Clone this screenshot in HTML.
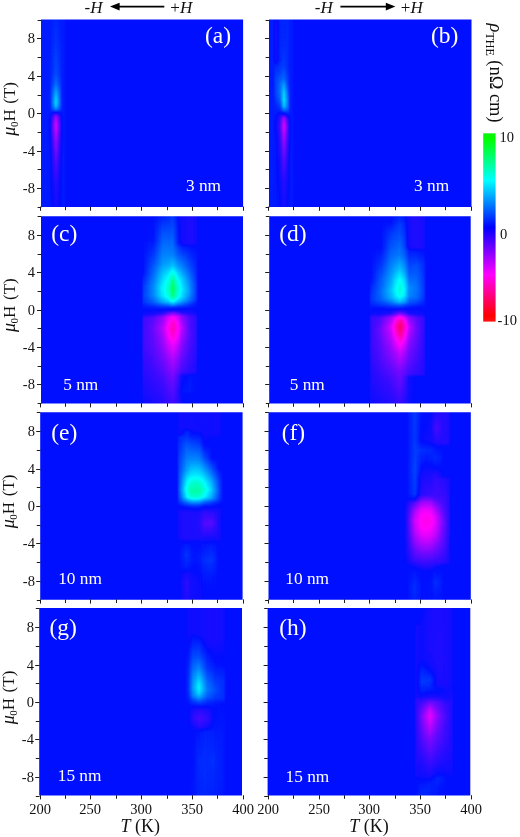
<!DOCTYPE html>
<html><head><meta charset="utf-8"><title>THE maps</title>
<style>
html,body{margin:0;padding:0;background:#fff;}
svg{display:block;}
text{font-family:"Liberation Serif",serif;}
.tk{font-size:14.5px;fill:#111;}
.al{font-size:17px;fill:#111;}
.cl{font-size:18.4px;fill:#111;}
.pl{font-size:23.5px;fill:#fff;}
.nm{font-size:17.3px;fill:#fff;}
.ax line{stroke:#1c1c1c;stroke-width:1;}
.xl{font-size:18px;fill:#111;}
</style></head><body>
<svg width="520" height="837" viewBox="0 0 520 837">
<defs>
<linearGradient id="hg" x1="0" y1="0" x2="1" y2="0"><stop offset="0" stop-color="#fff" stop-opacity="0"/><stop offset="1" stop-color="#fff" stop-opacity="1"/></linearGradient>
<mask id="hm" maskContentUnits="objectBoundingBox"><rect x="0" y="0" width="1" height="1" fill="url(#hg)"/></mask>
<filter id="cm" filterUnits="userSpaceOnUse" x="0" y="0" width="520" height="837" color-interpolation-filters="sRGB">
<feGaussianBlur stdDeviation="0.7"/>
<feComponentTransfer>
<feFuncR type="table" tableValues="1 1 0 0 0"/>
<feFuncG type="table" tableValues="0 0 0.055 1 1"/>
<feFuncB type="table" tableValues="0 1 1 1 0"/>
</feComponentTransfer>
</filter>
<clipPath id="c1"><rect x="41.0" y="19.4" width="202.1" height="187.5"/></clipPath>
<linearGradient id="g2" gradientUnits="userSpaceOnUse" x1="0" y1="19.4" x2="0" y2="206.9"><stop offset="0.0000" stop-color="rgb(131,131,131)"/><stop offset="0.1365" stop-color="rgb(131,131,131)"/><stop offset="0.2859" stop-color="rgb(132,132,132)"/><stop offset="0.3445" stop-color="rgb(132,132,132)"/><stop offset="0.3872" stop-color="rgb(133,133,133)"/><stop offset="0.4192" stop-color="rgb(133,133,133)"/><stop offset="0.4405" stop-color="rgb(133,133,133)"/><stop offset="0.4619" stop-color="rgb(133,133,133)"/><stop offset="0.4805" stop-color="rgb(132,132,132)"/><stop offset="0.4939" stop-color="rgb(131,131,131)"/><stop offset="0.5019" stop-color="rgb(130,130,130)"/><stop offset="0.5205" stop-color="rgb(129,129,129)"/><stop offset="0.5525" stop-color="rgb(128,128,128)"/><stop offset="0.5792" stop-color="rgb(128,128,128)"/><stop offset="0.6432" stop-color="rgb(129,129,129)"/><stop offset="0.7499" stop-color="rgb(130,130,130)"/><stop offset="0.8725" stop-color="rgb(130,130,130)"/><stop offset="1.0000" stop-color="rgb(130,130,130)"/></linearGradient>
<linearGradient id="g3" gradientUnits="userSpaceOnUse" x1="0" y1="19.4" x2="0" y2="206.9"><stop offset="0.0000" stop-color="rgb(132,132,132)"/><stop offset="0.1365" stop-color="rgb(134,134,134)"/><stop offset="0.2859" stop-color="rgb(136,136,136)"/><stop offset="0.3445" stop-color="rgb(140,140,140)"/><stop offset="0.3872" stop-color="rgb(146,146,146)"/><stop offset="0.4192" stop-color="rgb(149,149,149)"/><stop offset="0.4405" stop-color="rgb(151,151,151)"/><stop offset="0.4619" stop-color="rgb(148,148,148)"/><stop offset="0.4805" stop-color="rgb(141,141,141)"/><stop offset="0.4939" stop-color="rgb(132,132,132)"/><stop offset="0.5019" stop-color="rgb(126,126,126)"/><stop offset="0.5205" stop-color="rgb(116,116,116)"/><stop offset="0.5525" stop-color="rgb(111,111,111)"/><stop offset="0.5792" stop-color="rgb(110,110,110)"/><stop offset="0.6432" stop-color="rgb(116,116,116)"/><stop offset="0.7499" stop-color="rgb(122,122,122)"/><stop offset="0.8725" stop-color="rgb(126,126,126)"/><stop offset="1.0000" stop-color="rgb(128,128,128)"/></linearGradient>
<linearGradient id="g4" gradientUnits="userSpaceOnUse" x1="0" y1="19.4" x2="0" y2="206.9"><stop offset="0.0000" stop-color="rgb(134,134,134)"/><stop offset="0.1365" stop-color="rgb(138,138,138)"/><stop offset="0.2859" stop-color="rgb(144,144,144)"/><stop offset="0.3445" stop-color="rgb(153,153,153)"/><stop offset="0.3872" stop-color="rgb(168,168,168)"/><stop offset="0.4192" stop-color="rgb(178,178,178)"/><stop offset="0.4405" stop-color="rgb(182,182,182)"/><stop offset="0.4619" stop-color="rgb(176,176,176)"/><stop offset="0.4805" stop-color="rgb(156,156,156)"/><stop offset="0.4939" stop-color="rgb(131,131,131)"/><stop offset="0.5019" stop-color="rgb(117,117,117)"/><stop offset="0.5205" stop-color="rgb(89,89,89)"/><stop offset="0.5525" stop-color="rgb(76,76,76)"/><stop offset="0.5792" stop-color="rgb(75,75,75)"/><stop offset="0.6432" stop-color="rgb(89,89,89)"/><stop offset="0.7499" stop-color="rgb(106,106,106)"/><stop offset="0.8725" stop-color="rgb(117,117,117)"/><stop offset="1.0000" stop-color="rgb(122,122,122)"/></linearGradient>
<linearGradient id="g5" gradientUnits="userSpaceOnUse" x1="0" y1="19.4" x2="0" y2="206.9"><stop offset="0.0000" stop-color="rgb(132,132,132)"/><stop offset="0.1365" stop-color="rgb(134,134,134)"/><stop offset="0.2859" stop-color="rgb(136,136,136)"/><stop offset="0.3445" stop-color="rgb(140,140,140)"/><stop offset="0.3872" stop-color="rgb(146,146,146)"/><stop offset="0.4192" stop-color="rgb(149,149,149)"/><stop offset="0.4405" stop-color="rgb(151,151,151)"/><stop offset="0.4619" stop-color="rgb(148,148,148)"/><stop offset="0.4805" stop-color="rgb(141,141,141)"/><stop offset="0.4939" stop-color="rgb(132,132,132)"/><stop offset="0.5019" stop-color="rgb(126,126,126)"/><stop offset="0.5205" stop-color="rgb(116,116,116)"/><stop offset="0.5525" stop-color="rgb(111,111,111)"/><stop offset="0.5792" stop-color="rgb(110,110,110)"/><stop offset="0.6432" stop-color="rgb(116,116,116)"/><stop offset="0.7499" stop-color="rgb(122,122,122)"/><stop offset="0.8725" stop-color="rgb(126,126,126)"/><stop offset="1.0000" stop-color="rgb(128,128,128)"/></linearGradient>
<linearGradient id="g6" gradientUnits="userSpaceOnUse" x1="0" y1="19.4" x2="0" y2="206.9"><stop offset="0.0000" stop-color="rgb(131,131,131)"/><stop offset="0.1365" stop-color="rgb(131,131,131)"/><stop offset="0.2859" stop-color="rgb(132,132,132)"/><stop offset="0.3445" stop-color="rgb(132,132,132)"/><stop offset="0.3872" stop-color="rgb(133,133,133)"/><stop offset="0.4192" stop-color="rgb(133,133,133)"/><stop offset="0.4405" stop-color="rgb(133,133,133)"/><stop offset="0.4619" stop-color="rgb(133,133,133)"/><stop offset="0.4805" stop-color="rgb(132,132,132)"/><stop offset="0.4939" stop-color="rgb(131,131,131)"/><stop offset="0.5019" stop-color="rgb(130,130,130)"/><stop offset="0.5205" stop-color="rgb(129,129,129)"/><stop offset="0.5525" stop-color="rgb(128,128,128)"/><stop offset="0.5792" stop-color="rgb(128,128,128)"/><stop offset="0.6432" stop-color="rgb(129,129,129)"/><stop offset="0.7499" stop-color="rgb(130,130,130)"/><stop offset="0.8725" stop-color="rgb(130,130,130)"/><stop offset="1.0000" stop-color="rgb(130,130,130)"/></linearGradient>
<clipPath id="c7"><rect x="269.0" y="19.4" width="202.5" height="187.5"/></clipPath>
<linearGradient id="g8" gradientUnits="userSpaceOnUse" x1="0" y1="19.4" x2="0" y2="206.9"><stop offset="0.0000" stop-color="rgb(125,125,125)"/><stop offset="0.0299" stop-color="rgb(121,121,121)"/><stop offset="0.2165" stop-color="rgb(122,122,122)"/><stop offset="0.2485" stop-color="rgb(134,134,134)"/><stop offset="0.3232" stop-color="rgb(142,142,142)"/><stop offset="0.4032" stop-color="rgb(142,142,142)"/><stop offset="0.4565" stop-color="rgb(134,134,134)"/><stop offset="0.4939" stop-color="rgb(131,131,131)"/><stop offset="0.5152" stop-color="rgb(129,129,129)"/><stop offset="0.5632" stop-color="rgb(126,126,126)"/><stop offset="0.6432" stop-color="rgb(129,129,129)"/><stop offset="1.0000" stop-color="rgb(130,130,130)"/></linearGradient>
<linearGradient id="g9" gradientUnits="userSpaceOnUse" x1="0" y1="19.4" x2="0" y2="206.9"><stop offset="0.0000" stop-color="rgb(133,133,133)"/><stop offset="0.2165" stop-color="rgb(134,134,134)"/><stop offset="0.2912" stop-color="rgb(142,142,142)"/><stop offset="0.3445" stop-color="rgb(152,152,152)"/><stop offset="0.3872" stop-color="rgb(154,154,154)"/><stop offset="0.4299" stop-color="rgb(149,149,149)"/><stop offset="0.4672" stop-color="rgb(139,139,139)"/><stop offset="0.4912" stop-color="rgb(131,131,131)"/><stop offset="0.5045" stop-color="rgb(125,125,125)"/><stop offset="0.5259" stop-color="rgb(115,115,115)"/><stop offset="0.5685" stop-color="rgb(110,110,110)"/><stop offset="0.6432" stop-color="rgb(116,116,116)"/><stop offset="0.7499" stop-color="rgb(122,122,122)"/><stop offset="1.0000" stop-color="rgb(129,129,129)"/></linearGradient>
<linearGradient id="g10" gradientUnits="userSpaceOnUse" x1="0" y1="19.4" x2="0" y2="206.9"><stop offset="0.0000" stop-color="rgb(133,133,133)"/><stop offset="0.1365" stop-color="rgb(135,135,135)"/><stop offset="0.2485" stop-color="rgb(140,140,140)"/><stop offset="0.3179" stop-color="rgb(152,152,152)"/><stop offset="0.3552" stop-color="rgb(168,168,168)"/><stop offset="0.3925" stop-color="rgb(180,180,180)"/><stop offset="0.4299" stop-color="rgb(184,184,184)"/><stop offset="0.4619" stop-color="rgb(177,177,177)"/><stop offset="0.4832" stop-color="rgb(153,153,153)"/><stop offset="0.4992" stop-color="rgb(130,130,130)"/><stop offset="0.5099" stop-color="rgb(117,117,117)"/><stop offset="0.5259" stop-color="rgb(89,89,89)"/><stop offset="0.5579" stop-color="rgb(74,74,74)"/><stop offset="0.5792" stop-color="rgb(73,73,73)"/><stop offset="0.6432" stop-color="rgb(88,88,88)"/><stop offset="0.7499" stop-color="rgb(105,105,105)"/><stop offset="0.8565" stop-color="rgb(117,117,117)"/><stop offset="1.0000" stop-color="rgb(122,122,122)"/></linearGradient>
<linearGradient id="g11" gradientUnits="userSpaceOnUse" x1="0" y1="19.4" x2="0" y2="206.9"><stop offset="0.0000" stop-color="rgb(134,134,134)"/><stop offset="0.2699" stop-color="rgb(135,135,135)"/><stop offset="0.3445" stop-color="rgb(140,140,140)"/><stop offset="0.3979" stop-color="rgb(149,149,149)"/><stop offset="0.4405" stop-color="rgb(154,154,154)"/><stop offset="0.4725" stop-color="rgb(150,150,150)"/><stop offset="0.4939" stop-color="rgb(139,139,139)"/><stop offset="0.5072" stop-color="rgb(131,131,131)"/><stop offset="0.5179" stop-color="rgb(125,125,125)"/><stop offset="0.5365" stop-color="rgb(115,115,115)"/><stop offset="0.5739" stop-color="rgb(110,110,110)"/><stop offset="0.6432" stop-color="rgb(116,116,116)"/><stop offset="0.7499" stop-color="rgb(122,122,122)"/><stop offset="1.0000" stop-color="rgb(129,129,129)"/></linearGradient>
<linearGradient id="g12" gradientUnits="userSpaceOnUse" x1="0" y1="19.4" x2="0" y2="206.9"><stop offset="0.0000" stop-color="rgb(131,131,131)"/><stop offset="0.1365" stop-color="rgb(131,131,131)"/><stop offset="0.2485" stop-color="rgb(131,131,131)"/><stop offset="0.3179" stop-color="rgb(132,132,132)"/><stop offset="0.3552" stop-color="rgb(132,132,132)"/><stop offset="0.3925" stop-color="rgb(133,133,133)"/><stop offset="0.4299" stop-color="rgb(133,133,133)"/><stop offset="0.4619" stop-color="rgb(133,133,133)"/><stop offset="0.4832" stop-color="rgb(132,132,132)"/><stop offset="0.4992" stop-color="rgb(131,131,131)"/><stop offset="0.5099" stop-color="rgb(130,130,130)"/><stop offset="0.5259" stop-color="rgb(129,129,129)"/><stop offset="0.5579" stop-color="rgb(129,129,129)"/><stop offset="0.5792" stop-color="rgb(128,128,128)"/><stop offset="0.6432" stop-color="rgb(129,129,129)"/><stop offset="0.7499" stop-color="rgb(130,130,130)"/><stop offset="0.8565" stop-color="rgb(130,130,130)"/><stop offset="1.0000" stop-color="rgb(130,130,130)"/></linearGradient>
<clipPath id="c13"><rect x="41.0" y="216.2" width="202.0" height="187.3"/></clipPath>
<linearGradient id="g14" gradientUnits="userSpaceOnUse" x1="0" y1="216.2" x2="0" y2="403.5"><stop offset="0.0021" stop-color="rgb(128,128,128)"/><stop offset="0.2979" stop-color="rgb(128,128,128)"/><stop offset="0.3727" stop-color="rgb(138,138,138)"/><stop offset="0.4261" stop-color="rgb(140,140,140)"/><stop offset="0.4634" stop-color="rgb(136,136,136)"/><stop offset="0.4901" stop-color="rgb(129,129,129)"/><stop offset="0.5061" stop-color="rgb(128,128,128)"/><stop offset="0.5248" stop-color="rgb(125,125,125)"/><stop offset="0.5435" stop-color="rgb(113,113,113)"/><stop offset="0.6877" stop-color="rgb(112,112,112)"/><stop offset="0.8745" stop-color="rgb(120,120,120)"/><stop offset="1.0000" stop-color="rgb(124,124,124)"/></linearGradient>
<linearGradient id="g15" gradientUnits="userSpaceOnUse" x1="0" y1="216.2" x2="0" y2="403.5"><stop offset="0.0021" stop-color="rgb(128,128,128)"/><stop offset="0.1271" stop-color="rgb(129,129,129)"/><stop offset="0.2125" stop-color="rgb(139,139,139)"/><stop offset="0.2979" stop-color="rgb(150,150,150)"/><stop offset="0.3727" stop-color="rgb(159,159,159)"/><stop offset="0.4207" stop-color="rgb(159,159,159)"/><stop offset="0.4581" stop-color="rgb(149,149,149)"/><stop offset="0.4848" stop-color="rgb(133,133,133)"/><stop offset="0.5008" stop-color="rgb(128,128,128)"/><stop offset="0.5222" stop-color="rgb(122,122,122)"/><stop offset="0.5435" stop-color="rgb(106,106,106)"/><stop offset="0.5969" stop-color="rgb(102,102,102)"/><stop offset="0.6877" stop-color="rgb(105,105,105)"/><stop offset="0.8745" stop-color="rgb(116,116,116)"/><stop offset="1.0000" stop-color="rgb(122,122,122)"/></linearGradient>
<linearGradient id="g16" gradientUnits="userSpaceOnUse" x1="0" y1="216.2" x2="0" y2="403.5"><stop offset="0.0021" stop-color="rgb(132,132,132)"/><stop offset="0.0630" stop-color="rgb(142,142,142)"/><stop offset="0.1271" stop-color="rgb(150,150,150)"/><stop offset="0.2445" stop-color="rgb(163,163,163)"/><stop offset="0.3246" stop-color="rgb(180,180,180)"/><stop offset="0.3833" stop-color="rgb(190,190,190)"/><stop offset="0.4261" stop-color="rgb(186,186,186)"/><stop offset="0.4581" stop-color="rgb(168,168,168)"/><stop offset="0.4821" stop-color="rgb(140,140,140)"/><stop offset="0.4981" stop-color="rgb(128,128,128)"/><stop offset="0.5168" stop-color="rgb(120,120,120)"/><stop offset="0.5382" stop-color="rgb(92,92,92)"/><stop offset="0.5969" stop-color="rgb(82,82,82)"/><stop offset="0.6877" stop-color="rgb(91,91,91)"/><stop offset="0.8745" stop-color="rgb(111,111,111)"/><stop offset="1.0000" stop-color="rgb(119,119,119)"/></linearGradient>
<linearGradient id="g17" gradientUnits="userSpaceOnUse" x1="0" y1="216.2" x2="0" y2="403.5"><stop offset="0.0021" stop-color="rgb(134,134,134)"/><stop offset="0.0630" stop-color="rgb(142,142,142)"/><stop offset="0.1004" stop-color="rgb(147,147,147)"/><stop offset="0.1271" stop-color="rgb(150,150,150)"/><stop offset="0.2072" stop-color="rgb(159,159,159)"/><stop offset="0.2445" stop-color="rgb(165,165,165)"/><stop offset="0.2659" stop-color="rgb(170,170,170)"/><stop offset="0.3086" stop-color="rgb(185,185,185)"/><stop offset="0.3246" stop-color="rgb(190,190,190)"/><stop offset="0.3513" stop-color="rgb(197,197,197)"/><stop offset="0.3833" stop-color="rgb(203,203,203)"/><stop offset="0.3914" stop-color="rgb(203,203,203)"/><stop offset="0.4261" stop-color="rgb(198,198,198)"/><stop offset="0.4527" stop-color="rgb(180,180,180)"/><stop offset="0.4581" stop-color="rgb(175,175,175)"/><stop offset="0.4741" stop-color="rgb(153,153,153)"/><stop offset="0.4821" stop-color="rgb(142,142,142)"/><stop offset="0.4901" stop-color="rgb(133,133,133)"/><stop offset="0.4981" stop-color="rgb(128,128,128)"/><stop offset="0.5008" stop-color="rgb(127,127,127)"/><stop offset="0.5141" stop-color="rgb(111,111,111)"/><stop offset="0.5168" stop-color="rgb(108,108,108)"/><stop offset="0.5382" stop-color="rgb(76,76,76)"/><stop offset="0.5702" stop-color="rgb(66,66,66)"/><stop offset="0.5969" stop-color="rgb(62,62,62)"/><stop offset="0.6022" stop-color="rgb(62,62,62)"/><stop offset="0.6450" stop-color="rgb(68,68,68)"/><stop offset="0.6877" stop-color="rgb(78,78,78)"/><stop offset="0.6930" stop-color="rgb(79,79,79)"/><stop offset="0.7678" stop-color="rgb(92,92,92)"/><stop offset="0.8745" stop-color="rgb(105,105,105)"/><stop offset="1.0000" stop-color="rgb(115,115,115)"/></linearGradient>
<linearGradient id="g18" gradientUnits="userSpaceOnUse" x1="0" y1="216.2" x2="0" y2="403.5"><stop offset="0.0021" stop-color="rgb(139,139,139)"/><stop offset="0.1004" stop-color="rgb(147,147,147)"/><stop offset="0.2072" stop-color="rgb(158,158,158)"/><stop offset="0.2659" stop-color="rgb(176,176,176)"/><stop offset="0.3086" stop-color="rgb(201,201,201)"/><stop offset="0.3513" stop-color="rgb(223,223,223)"/><stop offset="0.3914" stop-color="rgb(232,232,232)"/><stop offset="0.4261" stop-color="rgb(223,223,223)"/><stop offset="0.4527" stop-color="rgb(196,196,196)"/><stop offset="0.4741" stop-color="rgb(161,161,161)"/><stop offset="0.4901" stop-color="rgb(131,131,131)"/><stop offset="0.5008" stop-color="rgb(128,128,128)"/><stop offset="0.5141" stop-color="rgb(102,102,102)"/><stop offset="0.5382" stop-color="rgb(64,64,64)"/><stop offset="0.5702" stop-color="rgb(50,50,50)"/><stop offset="0.6022" stop-color="rgb(46,46,46)"/><stop offset="0.6450" stop-color="rgb(54,54,54)"/><stop offset="0.6930" stop-color="rgb(69,69,69)"/><stop offset="0.7678" stop-color="rgb(85,85,85)"/><stop offset="0.8745" stop-color="rgb(101,101,101)"/><stop offset="1.0000" stop-color="rgb(112,112,112)"/></linearGradient>
<linearGradient id="g19" gradientUnits="userSpaceOnUse" x1="0" y1="216.2" x2="0" y2="403.5"><stop offset="0.0021" stop-color="rgb(128,128,128)"/><stop offset="0.1004" stop-color="rgb(131,131,131)"/><stop offset="0.1431" stop-color="rgb(132,132,132)"/><stop offset="0.1644" stop-color="rgb(140,140,140)"/><stop offset="0.2072" stop-color="rgb(148,148,148)"/><stop offset="0.2659" stop-color="rgb(164,164,164)"/><stop offset="0.3086" stop-color="rgb(181,181,181)"/><stop offset="0.3406" stop-color="rgb(192,192,192)"/><stop offset="0.3513" stop-color="rgb(195,195,195)"/><stop offset="0.3887" stop-color="rgb(202,202,202)"/><stop offset="0.3914" stop-color="rgb(202,202,202)"/><stop offset="0.4261" stop-color="rgb(196,196,196)"/><stop offset="0.4314" stop-color="rgb(194,194,194)"/><stop offset="0.4527" stop-color="rgb(177,177,177)"/><stop offset="0.4581" stop-color="rgb(172,172,172)"/><stop offset="0.4741" stop-color="rgb(151,151,151)"/><stop offset="0.4821" stop-color="rgb(140,140,140)"/><stop offset="0.4901" stop-color="rgb(131,131,131)"/><stop offset="0.4955" stop-color="rgb(128,128,128)"/><stop offset="0.5008" stop-color="rgb(127,127,127)"/><stop offset="0.5141" stop-color="rgb(110,110,110)"/><stop offset="0.5355" stop-color="rgb(79,79,79)"/><stop offset="0.5382" stop-color="rgb(77,77,77)"/><stop offset="0.5702" stop-color="rgb(66,66,66)"/><stop offset="0.5969" stop-color="rgb(62,62,62)"/><stop offset="0.6022" stop-color="rgb(62,62,62)"/><stop offset="0.6450" stop-color="rgb(69,69,69)"/><stop offset="0.6877" stop-color="rgb(79,79,79)"/><stop offset="0.6930" stop-color="rgb(81,81,81)"/><stop offset="0.7678" stop-color="rgb(94,94,94)"/><stop offset="0.8318" stop-color="rgb(103,103,103)"/><stop offset="0.8532" stop-color="rgb(110,110,110)"/><stop offset="0.8745" stop-color="rgb(112,112,112)"/><stop offset="0.9333" stop-color="rgb(117,117,117)"/><stop offset="1.0000" stop-color="rgb(118,118,118)"/></linearGradient>
<linearGradient id="g20" gradientUnits="userSpaceOnUse" x1="0" y1="216.2" x2="0" y2="403.5"><stop offset="0.0021" stop-color="rgb(123,123,123)"/><stop offset="0.1431" stop-color="rgb(123,123,123)"/><stop offset="0.1644" stop-color="rgb(133,133,133)"/><stop offset="0.2659" stop-color="rgb(158,158,158)"/><stop offset="0.3406" stop-color="rgb(180,180,180)"/><stop offset="0.3887" stop-color="rgb(187,187,187)"/><stop offset="0.4314" stop-color="rgb(182,182,182)"/><stop offset="0.4581" stop-color="rgb(164,164,164)"/><stop offset="0.4821" stop-color="rgb(138,138,138)"/><stop offset="0.4955" stop-color="rgb(128,128,128)"/><stop offset="0.5141" stop-color="rgb(120,120,120)"/><stop offset="0.5355" stop-color="rgb(93,93,93)"/><stop offset="0.5969" stop-color="rgb(82,82,82)"/><stop offset="0.6877" stop-color="rgb(94,94,94)"/><stop offset="0.8318" stop-color="rgb(112,112,112)"/><stop offset="0.8532" stop-color="rgb(125,125,125)"/><stop offset="0.9333" stop-color="rgb(130,130,130)"/><stop offset="1.0000" stop-color="rgb(125,125,125)"/></linearGradient>
<linearGradient id="g21" gradientUnits="userSpaceOnUse" x1="0" y1="216.2" x2="0" y2="403.5"><stop offset="0.0021" stop-color="rgb(121,121,121)"/><stop offset="0.1431" stop-color="rgb(121,121,121)"/><stop offset="0.1644" stop-color="rgb(129,129,129)"/><stop offset="0.2659" stop-color="rgb(143,143,143)"/><stop offset="0.3513" stop-color="rgb(158,158,158)"/><stop offset="0.4047" stop-color="rgb(162,162,162)"/><stop offset="0.4474" stop-color="rgb(153,153,153)"/><stop offset="0.4768" stop-color="rgb(134,134,134)"/><stop offset="0.4928" stop-color="rgb(128,128,128)"/><stop offset="0.5168" stop-color="rgb(122,122,122)"/><stop offset="0.5382" stop-color="rgb(110,110,110)"/><stop offset="0.6343" stop-color="rgb(107,107,107)"/><stop offset="0.8318" stop-color="rgb(117,117,117)"/><stop offset="0.8532" stop-color="rgb(129,129,129)"/><stop offset="0.9333" stop-color="rgb(131,131,131)"/><stop offset="0.9493" stop-color="rgb(128,128,128)"/><stop offset="1.0000" stop-color="rgb(128,128,128)"/></linearGradient>
<linearGradient id="g22" gradientUnits="userSpaceOnUse" x1="0" y1="216.2" x2="0" y2="403.5"><stop offset="0.0021" stop-color="rgb(123,123,123)"/><stop offset="0.1431" stop-color="rgb(123,123,123)"/><stop offset="0.1644" stop-color="rgb(128,128,128)"/><stop offset="0.2766" stop-color="rgb(134,134,134)"/><stop offset="0.3833" stop-color="rgb(140,140,140)"/><stop offset="0.4367" stop-color="rgb(139,139,139)"/><stop offset="0.4741" stop-color="rgb(130,130,130)"/><stop offset="0.4901" stop-color="rgb(128,128,128)"/><stop offset="0.5168" stop-color="rgb(125,125,125)"/><stop offset="0.5382" stop-color="rgb(116,116,116)"/><stop offset="0.6610" stop-color="rgb(116,116,116)"/><stop offset="0.8318" stop-color="rgb(121,121,121)"/><stop offset="0.8478" stop-color="rgb(128,128,128)"/><stop offset="1.0000" stop-color="rgb(128,128,128)"/></linearGradient>
<clipPath id="c23"><rect x="269.2" y="216.2" width="201.5" height="187.3"/></clipPath>
<linearGradient id="g24" gradientUnits="userSpaceOnUse" x1="0" y1="216.2" x2="0" y2="403.5"><stop offset="0.0021" stop-color="rgb(128,128,128)"/><stop offset="0.3300" stop-color="rgb(128,128,128)"/><stop offset="0.4047" stop-color="rgb(136,136,136)"/><stop offset="0.4474" stop-color="rgb(138,138,138)"/><stop offset="0.4741" stop-color="rgb(133,133,133)"/><stop offset="0.4955" stop-color="rgb(128,128,128)"/><stop offset="0.5222" stop-color="rgb(125,125,125)"/><stop offset="0.5408" stop-color="rgb(115,115,115)"/><stop offset="0.6877" stop-color="rgb(115,115,115)"/><stop offset="0.8745" stop-color="rgb(121,121,121)"/><stop offset="1.0000" stop-color="rgb(124,124,124)"/></linearGradient>
<linearGradient id="g25" gradientUnits="userSpaceOnUse" x1="0" y1="216.2" x2="0" y2="403.5"><stop offset="0.0021" stop-color="rgb(128,128,128)"/><stop offset="0.1698" stop-color="rgb(128,128,128)"/><stop offset="0.2445" stop-color="rgb(136,136,136)"/><stop offset="0.3300" stop-color="rgb(147,147,147)"/><stop offset="0.4047" stop-color="rgb(153,153,153)"/><stop offset="0.4421" stop-color="rgb(150,150,150)"/><stop offset="0.4688" stop-color="rgb(140,140,140)"/><stop offset="0.4928" stop-color="rgb(128,128,128)"/><stop offset="0.5222" stop-color="rgb(124,124,124)"/><stop offset="0.5435" stop-color="rgb(107,107,107)"/><stop offset="0.6076" stop-color="rgb(99,99,99)"/><stop offset="0.7144" stop-color="rgb(105,105,105)"/><stop offset="0.8745" stop-color="rgb(116,116,116)"/><stop offset="1.0000" stop-color="rgb(122,122,122)"/></linearGradient>
<linearGradient id="g26" gradientUnits="userSpaceOnUse" x1="0" y1="216.2" x2="0" y2="403.5"><stop offset="0.0021" stop-color="rgb(128,128,128)"/><stop offset="0.0310" stop-color="rgb(128,128,128)"/><stop offset="0.0897" stop-color="rgb(138,138,138)"/><stop offset="0.2232" stop-color="rgb(153,153,153)"/><stop offset="0.3406" stop-color="rgb(168,168,168)"/><stop offset="0.3994" stop-color="rgb(175,175,175)"/><stop offset="0.4367" stop-color="rgb(170,170,170)"/><stop offset="0.4634" stop-color="rgb(153,153,153)"/><stop offset="0.4848" stop-color="rgb(135,135,135)"/><stop offset="0.4981" stop-color="rgb(128,128,128)"/><stop offset="0.5195" stop-color="rgb(120,120,120)"/><stop offset="0.5408" stop-color="rgb(89,89,89)"/><stop offset="0.5916" stop-color="rgb(74,74,74)"/><stop offset="0.6877" stop-color="rgb(88,88,88)"/><stop offset="0.8745" stop-color="rgb(111,111,111)"/><stop offset="1.0000" stop-color="rgb(120,120,120)"/></linearGradient>
<linearGradient id="g27" gradientUnits="userSpaceOnUse" x1="0" y1="216.2" x2="0" y2="403.5"><stop offset="0.0021" stop-color="rgb(131,131,131)"/><stop offset="0.0310" stop-color="rgb(134,134,134)"/><stop offset="0.0470" stop-color="rgb(136,136,136)"/><stop offset="0.0897" stop-color="rgb(142,142,142)"/><stop offset="0.2072" stop-color="rgb(154,154,154)"/><stop offset="0.2232" stop-color="rgb(157,157,157)"/><stop offset="0.2872" stop-color="rgb(170,170,170)"/><stop offset="0.3406" stop-color="rgb(184,184,184)"/><stop offset="0.3887" stop-color="rgb(191,191,191)"/><stop offset="0.3994" stop-color="rgb(190,190,190)"/><stop offset="0.4261" stop-color="rgb(186,186,186)"/><stop offset="0.4367" stop-color="rgb(181,181,181)"/><stop offset="0.4581" stop-color="rgb(167,167,167)"/><stop offset="0.4634" stop-color="rgb(161,161,161)"/><stop offset="0.4794" stop-color="rgb(142,142,142)"/><stop offset="0.4848" stop-color="rgb(137,137,137)"/><stop offset="0.4955" stop-color="rgb(128,128,128)"/><stop offset="0.4981" stop-color="rgb(126,126,126)"/><stop offset="0.5168" stop-color="rgb(110,110,110)"/><stop offset="0.5195" stop-color="rgb(107,107,107)"/><stop offset="0.5408" stop-color="rgb(72,72,72)"/><stop offset="0.5649" stop-color="rgb(56,56,56)"/><stop offset="0.5916" stop-color="rgb(47,47,47)"/><stop offset="0.6236" stop-color="rgb(54,54,54)"/><stop offset="0.6610" stop-color="rgb(67,67,67)"/><stop offset="0.6877" stop-color="rgb(74,74,74)"/><stop offset="0.7250" stop-color="rgb(84,84,84)"/><stop offset="0.8211" stop-color="rgb(100,100,100)"/><stop offset="0.8745" stop-color="rgb(106,106,106)"/><stop offset="1.0000" stop-color="rgb(117,117,117)"/></linearGradient>
<linearGradient id="g28" gradientUnits="userSpaceOnUse" x1="0" y1="216.2" x2="0" y2="403.5"><stop offset="0.0021" stop-color="rgb(133,133,133)"/><stop offset="0.0470" stop-color="rgb(140,140,140)"/><stop offset="0.2072" stop-color="rgb(156,156,156)"/><stop offset="0.2872" stop-color="rgb(176,176,176)"/><stop offset="0.3406" stop-color="rgb(194,194,194)"/><stop offset="0.3887" stop-color="rgb(203,203,203)"/><stop offset="0.4261" stop-color="rgb(196,196,196)"/><stop offset="0.4581" stop-color="rgb(173,173,173)"/><stop offset="0.4794" stop-color="rgb(143,143,143)"/><stop offset="0.4955" stop-color="rgb(128,128,128)"/><stop offset="0.5168" stop-color="rgb(102,102,102)"/><stop offset="0.5408" stop-color="rgb(59,59,59)"/><stop offset="0.5649" stop-color="rgb(34,34,34)"/><stop offset="0.5916" stop-color="rgb(26,26,26)"/><stop offset="0.6236" stop-color="rgb(34,34,34)"/><stop offset="0.6610" stop-color="rgb(52,52,52)"/><stop offset="0.7250" stop-color="rgb(76,76,76)"/><stop offset="0.8211" stop-color="rgb(97,97,97)"/><stop offset="1.0000" stop-color="rgb(115,115,115)"/></linearGradient>
<linearGradient id="g29" gradientUnits="userSpaceOnUse" x1="0" y1="216.2" x2="0" y2="403.5"><stop offset="0.0021" stop-color="rgb(129,129,129)"/><stop offset="0.0470" stop-color="rgb(133,133,133)"/><stop offset="0.1644" stop-color="rgb(140,140,140)"/><stop offset="0.1858" stop-color="rgb(145,145,145)"/><stop offset="0.2072" stop-color="rgb(147,147,147)"/><stop offset="0.2872" stop-color="rgb(164,164,164)"/><stop offset="0.2979" stop-color="rgb(166,166,166)"/><stop offset="0.3406" stop-color="rgb(178,178,178)"/><stop offset="0.3833" stop-color="rgb(185,185,185)"/><stop offset="0.3887" stop-color="rgb(186,186,186)"/><stop offset="0.4261" stop-color="rgb(182,182,182)"/><stop offset="0.4581" stop-color="rgb(163,163,163)"/><stop offset="0.4794" stop-color="rgb(139,139,139)"/><stop offset="0.4821" stop-color="rgb(137,137,137)"/><stop offset="0.4955" stop-color="rgb(128,128,128)"/><stop offset="0.5168" stop-color="rgb(111,111,111)"/><stop offset="0.5195" stop-color="rgb(108,108,108)"/><stop offset="0.5408" stop-color="rgb(75,75,75)"/><stop offset="0.5649" stop-color="rgb(58,58,58)"/><stop offset="0.5916" stop-color="rgb(50,50,50)"/><stop offset="0.6236" stop-color="rgb(57,57,57)"/><stop offset="0.6610" stop-color="rgb(69,69,69)"/><stop offset="0.6877" stop-color="rgb(77,77,77)"/><stop offset="0.7250" stop-color="rgb(86,86,86)"/><stop offset="0.8211" stop-color="rgb(103,103,103)"/><stop offset="0.8425" stop-color="rgb(105,105,105)"/><stop offset="0.8585" stop-color="rgb(111,111,111)"/><stop offset="1.0000" stop-color="rgb(119,119,119)"/></linearGradient>
<linearGradient id="g30" gradientUnits="userSpaceOnUse" x1="0" y1="216.2" x2="0" y2="403.5"><stop offset="0.0021" stop-color="rgb(122,122,122)"/><stop offset="0.1644" stop-color="rgb(122,122,122)"/><stop offset="0.1858" stop-color="rgb(132,132,132)"/><stop offset="0.2979" stop-color="rgb(147,147,147)"/><stop offset="0.3833" stop-color="rgb(161,161,161)"/><stop offset="0.4261" stop-color="rgb(159,159,159)"/><stop offset="0.4581" stop-color="rgb(148,148,148)"/><stop offset="0.4821" stop-color="rgb(133,133,133)"/><stop offset="0.4955" stop-color="rgb(128,128,128)"/><stop offset="0.5195" stop-color="rgb(121,121,121)"/><stop offset="0.5408" stop-color="rgb(94,94,94)"/><stop offset="0.5916" stop-color="rgb(79,79,79)"/><stop offset="0.6877" stop-color="rgb(94,94,94)"/><stop offset="0.8425" stop-color="rgb(112,112,112)"/><stop offset="0.8585" stop-color="rgb(124,124,124)"/><stop offset="1.0000" stop-color="rgb(125,125,125)"/></linearGradient>
<linearGradient id="g31" gradientUnits="userSpaceOnUse" x1="0" y1="216.2" x2="0" y2="403.5"><stop offset="0.0021" stop-color="rgb(120,120,120)"/><stop offset="0.1644" stop-color="rgb(120,120,120)"/><stop offset="0.1858" stop-color="rgb(130,130,130)"/><stop offset="0.2605" stop-color="rgb(144,144,144)"/><stop offset="0.3833" stop-color="rgb(154,154,154)"/><stop offset="0.4314" stop-color="rgb(152,152,152)"/><stop offset="0.4634" stop-color="rgb(140,140,140)"/><stop offset="0.4875" stop-color="rgb(128,128,128)"/><stop offset="0.5222" stop-color="rgb(124,124,124)"/><stop offset="0.5435" stop-color="rgb(107,107,107)"/><stop offset="0.6076" stop-color="rgb(102,102,102)"/><stop offset="0.8425" stop-color="rgb(116,116,116)"/><stop offset="0.8585" stop-color="rgb(128,128,128)"/><stop offset="1.0000" stop-color="rgb(128,128,128)"/></linearGradient>
<linearGradient id="g32" gradientUnits="userSpaceOnUse" x1="0" y1="216.2" x2="0" y2="403.5"><stop offset="0.0021" stop-color="rgb(122,122,122)"/><stop offset="0.1644" stop-color="rgb(122,122,122)"/><stop offset="0.1858" stop-color="rgb(128,128,128)"/><stop offset="0.2605" stop-color="rgb(135,135,135)"/><stop offset="0.4047" stop-color="rgb(139,139,139)"/><stop offset="0.4474" stop-color="rgb(136,136,136)"/><stop offset="0.4741" stop-color="rgb(130,130,130)"/><stop offset="0.4901" stop-color="rgb(128,128,128)"/><stop offset="0.5222" stop-color="rgb(125,125,125)"/><stop offset="0.5435" stop-color="rgb(115,115,115)"/><stop offset="0.8425" stop-color="rgb(119,119,119)"/><stop offset="0.8585" stop-color="rgb(128,128,128)"/><stop offset="1.0000" stop-color="rgb(128,128,128)"/></linearGradient>
<clipPath id="c33"><rect x="40.2" y="412.2" width="202.4" height="187.5"/></clipPath>
<linearGradient id="g34" gradientUnits="userSpaceOnUse" x1="0" y1="412.2" x2="0" y2="599.7"><stop offset="0.0000" stop-color="rgb(124,124,124)"/><stop offset="0.1163" stop-color="rgb(124,124,124)"/><stop offset="0.1323" stop-color="rgb(134,134,134)"/><stop offset="0.2549" stop-color="rgb(140,140,140)"/><stop offset="0.4149" stop-color="rgb(147,147,147)"/><stop offset="0.4683" stop-color="rgb(140,140,140)"/><stop offset="0.5003" stop-color="rgb(128,128,128)"/><stop offset="0.5376" stop-color="rgb(122,122,122)"/><stop offset="0.6709" stop-color="rgb(122,122,122)"/><stop offset="0.6869" stop-color="rgb(128,128,128)"/><stop offset="1.0000" stop-color="rgb(128,128,128)"/></linearGradient>
<linearGradient id="g35" gradientUnits="userSpaceOnUse" x1="0" y1="412.2" x2="0" y2="599.7"><stop offset="0.0000" stop-color="rgb(124,124,124)"/><stop offset="0.0843" stop-color="rgb(124,124,124)"/><stop offset="0.1056" stop-color="rgb(133,133,133)"/><stop offset="0.1749" stop-color="rgb(147,147,147)"/><stop offset="0.3083" stop-color="rgb(167,167,167)"/><stop offset="0.3616" stop-color="rgb(186,186,186)"/><stop offset="0.4096" stop-color="rgb(199,199,199)"/><stop offset="0.4523" stop-color="rgb(189,189,189)"/><stop offset="0.4843" stop-color="rgb(150,150,150)"/><stop offset="0.5056" stop-color="rgb(130,130,130)"/><stop offset="0.5376" stop-color="rgb(120,120,120)"/><stop offset="0.6709" stop-color="rgb(120,120,120)"/><stop offset="0.7083" stop-color="rgb(131,131,131)"/><stop offset="0.7616" stop-color="rgb(138,138,138)"/><stop offset="0.8309" stop-color="rgb(131,131,131)"/><stop offset="0.8683" stop-color="rgb(121,121,121)"/><stop offset="0.9109" stop-color="rgb(116,116,116)"/><stop offset="1.0000" stop-color="rgb(119,119,119)"/></linearGradient>
<linearGradient id="g36" gradientUnits="userSpaceOnUse" x1="0" y1="412.2" x2="0" y2="599.7"><stop offset="0.0000" stop-color="rgb(124,124,124)"/><stop offset="0.0843" stop-color="rgb(124,124,124)"/><stop offset="0.0949" stop-color="rgb(125,125,125)"/><stop offset="0.1056" stop-color="rgb(128,128,128)"/><stop offset="0.1269" stop-color="rgb(132,132,132)"/><stop offset="0.1749" stop-color="rgb(144,144,144)"/><stop offset="0.2549" stop-color="rgb(160,160,160)"/><stop offset="0.3083" stop-color="rgb(176,176,176)"/><stop offset="0.3349" stop-color="rgb(184,184,184)"/><stop offset="0.3616" stop-color="rgb(195,195,195)"/><stop offset="0.3829" stop-color="rgb(204,204,204)"/><stop offset="0.4096" stop-color="rgb(210,210,210)"/><stop offset="0.4203" stop-color="rgb(212,212,212)"/><stop offset="0.4523" stop-color="rgb(201,201,201)"/><stop offset="0.4789" stop-color="rgb(164,164,164)"/><stop offset="0.4843" stop-color="rgb(157,157,157)"/><stop offset="0.5003" stop-color="rgb(137,137,137)"/><stop offset="0.5056" stop-color="rgb(133,133,133)"/><stop offset="0.5163" stop-color="rgb(127,127,127)"/><stop offset="0.5376" stop-color="rgb(121,121,121)"/><stop offset="0.6709" stop-color="rgb(121,121,121)"/><stop offset="0.6923" stop-color="rgb(127,127,127)"/><stop offset="0.7083" stop-color="rgb(129,129,129)"/><stop offset="0.7616" stop-color="rgb(131,131,131)"/><stop offset="0.7883" stop-color="rgb(131,131,131)"/><stop offset="0.8309" stop-color="rgb(129,129,129)"/><stop offset="0.8683" stop-color="rgb(125,125,125)"/><stop offset="0.8949" stop-color="rgb(124,124,124)"/><stop offset="0.9109" stop-color="rgb(123,123,123)"/><stop offset="1.0000" stop-color="rgb(124,124,124)"/></linearGradient>
<linearGradient id="g37" gradientUnits="userSpaceOnUse" x1="0" y1="412.2" x2="0" y2="599.7"><stop offset="0.0000" stop-color="rgb(124,124,124)"/><stop offset="0.0949" stop-color="rgb(124,124,124)"/><stop offset="0.1269" stop-color="rgb(131,131,131)"/><stop offset="0.1749" stop-color="rgb(143,143,143)"/><stop offset="0.2549" stop-color="rgb(161,161,161)"/><stop offset="0.3349" stop-color="rgb(186,186,186)"/><stop offset="0.3829" stop-color="rgb(207,207,207)"/><stop offset="0.4203" stop-color="rgb(215,215,215)"/><stop offset="0.4523" stop-color="rgb(204,204,204)"/><stop offset="0.4789" stop-color="rgb(166,166,166)"/><stop offset="0.5003" stop-color="rgb(138,138,138)"/><stop offset="0.5163" stop-color="rgb(128,128,128)"/><stop offset="0.5376" stop-color="rgb(121,121,121)"/><stop offset="0.6709" stop-color="rgb(121,121,121)"/><stop offset="0.6923" stop-color="rgb(128,128,128)"/><stop offset="0.7883" stop-color="rgb(130,130,130)"/><stop offset="0.8949" stop-color="rgb(125,125,125)"/><stop offset="1.0000" stop-color="rgb(125,125,125)"/></linearGradient>
<linearGradient id="g38" gradientUnits="userSpaceOnUse" x1="0" y1="412.2" x2="0" y2="599.7"><stop offset="0.0000" stop-color="rgb(124,124,124)"/><stop offset="0.0949" stop-color="rgb(124,124,124)"/><stop offset="0.1163" stop-color="rgb(128,128,128)"/><stop offset="0.1269" stop-color="rgb(130,130,130)"/><stop offset="0.1749" stop-color="rgb(140,140,140)"/><stop offset="0.2443" stop-color="rgb(156,156,156)"/><stop offset="0.2549" stop-color="rgb(158,158,158)"/><stop offset="0.3243" stop-color="rgb(181,181,181)"/><stop offset="0.3349" stop-color="rgb(184,184,184)"/><stop offset="0.3776" stop-color="rgb(202,202,202)"/><stop offset="0.3829" stop-color="rgb(204,204,204)"/><stop offset="0.4149" stop-color="rgb(212,212,212)"/><stop offset="0.4203" stop-color="rgb(213,213,213)"/><stop offset="0.4523" stop-color="rgb(201,201,201)"/><stop offset="0.4789" stop-color="rgb(163,163,163)"/><stop offset="0.5003" stop-color="rgb(136,136,136)"/><stop offset="0.5163" stop-color="rgb(127,127,127)"/><stop offset="0.5323" stop-color="rgb(122,122,122)"/><stop offset="0.5376" stop-color="rgb(120,120,120)"/><stop offset="0.5909" stop-color="rgb(118,118,118)"/><stop offset="0.6496" stop-color="rgb(120,120,120)"/><stop offset="0.6709" stop-color="rgb(121,121,121)"/><stop offset="0.6923" stop-color="rgb(127,127,127)"/><stop offset="0.7083" stop-color="rgb(128,128,128)"/><stop offset="0.7883" stop-color="rgb(131,131,131)"/><stop offset="0.8683" stop-color="rgb(127,127,127)"/><stop offset="0.8949" stop-color="rgb(126,126,126)"/><stop offset="0.9483" stop-color="rgb(125,125,125)"/><stop offset="1.0000" stop-color="rgb(125,125,125)"/></linearGradient>
<linearGradient id="g39" gradientUnits="userSpaceOnUse" x1="0" y1="412.2" x2="0" y2="599.7"><stop offset="0.0000" stop-color="rgb(124,124,124)"/><stop offset="0.1163" stop-color="rgb(124,124,124)"/><stop offset="0.1749" stop-color="rgb(128,128,128)"/><stop offset="0.2443" stop-color="rgb(145,145,145)"/><stop offset="0.3243" stop-color="rgb(173,173,173)"/><stop offset="0.3776" stop-color="rgb(194,194,194)"/><stop offset="0.4149" stop-color="rgb(203,203,203)"/><stop offset="0.4523" stop-color="rgb(190,190,190)"/><stop offset="0.4789" stop-color="rgb(153,153,153)"/><stop offset="0.5003" stop-color="rgb(131,131,131)"/><stop offset="0.5323" stop-color="rgb(117,117,117)"/><stop offset="0.5909" stop-color="rgb(107,107,107)"/><stop offset="0.6496" stop-color="rgb(117,117,117)"/><stop offset="0.7083" stop-color="rgb(130,130,130)"/><stop offset="0.7883" stop-color="rgb(136,136,136)"/><stop offset="0.8683" stop-color="rgb(131,131,131)"/><stop offset="0.9483" stop-color="rgb(128,128,128)"/><stop offset="1.0000" stop-color="rgb(128,128,128)"/></linearGradient>
<linearGradient id="g40" gradientUnits="userSpaceOnUse" x1="0" y1="412.2" x2="0" y2="599.7"><stop offset="0.0000" stop-color="rgb(124,124,124)"/><stop offset="0.1163" stop-color="rgb(124,124,124)"/><stop offset="0.1483" stop-color="rgb(128,128,128)"/><stop offset="0.2443" stop-color="rgb(128,128,128)"/><stop offset="0.3083" stop-color="rgb(148,148,148)"/><stop offset="0.3723" stop-color="rgb(168,168,168)"/><stop offset="0.4149" stop-color="rgb(177,177,177)"/><stop offset="0.4576" stop-color="rgb(166,166,166)"/><stop offset="0.4843" stop-color="rgb(138,138,138)"/><stop offset="0.5056" stop-color="rgb(128,128,128)"/><stop offset="0.5376" stop-color="rgb(117,117,117)"/><stop offset="0.5909" stop-color="rgb(106,106,106)"/><stop offset="0.6443" stop-color="rgb(117,117,117)"/><stop offset="0.7083" stop-color="rgb(131,131,131)"/><stop offset="0.7883" stop-color="rgb(138,138,138)"/><stop offset="0.8683" stop-color="rgb(131,131,131)"/><stop offset="0.9483" stop-color="rgb(128,128,128)"/><stop offset="1.0000" stop-color="rgb(128,128,128)"/></linearGradient>
<linearGradient id="g41" gradientUnits="userSpaceOnUse" x1="0" y1="412.2" x2="0" y2="599.7"><stop offset="0.0000" stop-color="rgb(124,124,124)"/><stop offset="0.1163" stop-color="rgb(124,124,124)"/><stop offset="0.1376" stop-color="rgb(128,128,128)"/><stop offset="0.2976" stop-color="rgb(128,128,128)"/><stop offset="0.3616" stop-color="rgb(140,140,140)"/><stop offset="0.4256" stop-color="rgb(145,145,145)"/><stop offset="0.4683" stop-color="rgb(138,138,138)"/><stop offset="0.4896" stop-color="rgb(128,128,128)"/><stop offset="0.5376" stop-color="rgb(122,122,122)"/><stop offset="0.6709" stop-color="rgb(122,122,122)"/><stop offset="0.6923" stop-color="rgb(128,128,128)"/><stop offset="1.0000" stop-color="rgb(128,128,128)"/></linearGradient>
<clipPath id="c42"><rect x="268.5" y="412.2" width="202.3" height="187.5"/></clipPath>
<linearGradient id="g43" gradientUnits="userSpaceOnUse" x1="0" y1="412.2" x2="0" y2="599.7"><stop offset="0.0000" stop-color="rgb(128,128,128)"/><stop offset="0.4629" stop-color="rgb(128,128,128)"/><stop offset="0.4949" stop-color="rgb(121,121,121)"/><stop offset="0.5749" stop-color="rgb(116,116,116)"/><stop offset="0.7083" stop-color="rgb(120,120,120)"/><stop offset="0.7883" stop-color="rgb(124,124,124)"/><stop offset="0.8203" stop-color="rgb(128,128,128)"/><stop offset="1.0000" stop-color="rgb(128,128,128)"/></linearGradient>
<linearGradient id="g44" gradientUnits="userSpaceOnUse" x1="0" y1="412.2" x2="0" y2="599.7"><stop offset="0.0000" stop-color="rgb(139,139,139)"/><stop offset="0.1483" stop-color="rgb(139,139,139)"/><stop offset="0.3083" stop-color="rgb(142,142,142)"/><stop offset="0.4363" stop-color="rgb(139,139,139)"/><stop offset="0.4629" stop-color="rgb(128,128,128)"/><stop offset="0.4843" stop-color="rgb(105,105,105)"/><stop offset="0.5323" stop-color="rgb(84,84,84)"/><stop offset="0.5803" stop-color="rgb(75,75,75)"/><stop offset="0.6389" stop-color="rgb(82,82,82)"/><stop offset="0.7083" stop-color="rgb(96,96,96)"/><stop offset="0.7883" stop-color="rgb(112,112,112)"/><stop offset="0.8309" stop-color="rgb(128,128,128)"/><stop offset="0.8683" stop-color="rgb(131,131,131)"/><stop offset="0.9376" stop-color="rgb(136,136,136)"/><stop offset="1.0000" stop-color="rgb(133,133,133)"/></linearGradient>
<linearGradient id="g45" gradientUnits="userSpaceOnUse" x1="0" y1="412.2" x2="0" y2="599.7"><stop offset="0.0000" stop-color="rgb(129,129,129)"/><stop offset="0.1483" stop-color="rgb(127,127,127)"/><stop offset="0.2016" stop-color="rgb(136,136,136)"/><stop offset="0.2549" stop-color="rgb(132,132,132)"/><stop offset="0.3083" stop-color="rgb(127,127,127)"/><stop offset="0.3403" stop-color="rgb(124,124,124)"/><stop offset="0.4363" stop-color="rgb(119,119,119)"/><stop offset="0.4416" stop-color="rgb(118,118,118)"/><stop offset="0.4629" stop-color="rgb(104,104,104)"/><stop offset="0.4789" stop-color="rgb(92,92,92)"/><stop offset="0.4843" stop-color="rgb(89,89,89)"/><stop offset="0.5216" stop-color="rgb(71,71,71)"/><stop offset="0.5323" stop-color="rgb(68,68,68)"/><stop offset="0.5536" stop-color="rgb(64,64,64)"/><stop offset="0.5803" stop-color="rgb(62,62,62)"/><stop offset="0.6176" stop-color="rgb(65,65,65)"/><stop offset="0.6389" stop-color="rgb(69,69,69)"/><stop offset="0.6603" stop-color="rgb(74,74,74)"/><stop offset="0.7083" stop-color="rgb(87,87,87)"/><stop offset="0.7616" stop-color="rgb(103,103,103)"/><stop offset="0.7883" stop-color="rgb(110,110,110)"/><stop offset="0.8149" stop-color="rgb(118,118,118)"/><stop offset="0.8309" stop-color="rgb(123,123,123)"/><stop offset="0.8523" stop-color="rgb(128,128,128)"/><stop offset="0.8683" stop-color="rgb(128,128,128)"/><stop offset="0.9376" stop-color="rgb(129,129,129)"/><stop offset="1.0000" stop-color="rgb(129,129,129)"/></linearGradient>
<linearGradient id="g46" gradientUnits="userSpaceOnUse" x1="0" y1="412.2" x2="0" y2="599.7"><stop offset="0.0000" stop-color="rgb(128,128,128)"/><stop offset="0.1483" stop-color="rgb(125,125,125)"/><stop offset="0.2016" stop-color="rgb(135,135,135)"/><stop offset="0.2549" stop-color="rgb(130,130,130)"/><stop offset="0.3403" stop-color="rgb(121,121,121)"/><stop offset="0.4416" stop-color="rgb(115,115,115)"/><stop offset="0.4789" stop-color="rgb(89,89,89)"/><stop offset="0.5216" stop-color="rgb(68,68,68)"/><stop offset="0.5536" stop-color="rgb(61,61,61)"/><stop offset="0.5803" stop-color="rgb(59,59,59)"/><stop offset="0.6176" stop-color="rgb(62,62,62)"/><stop offset="0.6603" stop-color="rgb(71,71,71)"/><stop offset="0.7083" stop-color="rgb(85,85,85)"/><stop offset="0.7616" stop-color="rgb(102,102,102)"/><stop offset="0.8149" stop-color="rgb(117,117,117)"/><stop offset="0.8523" stop-color="rgb(128,128,128)"/><stop offset="1.0000" stop-color="rgb(129,129,129)"/></linearGradient>
<linearGradient id="g47" gradientUnits="userSpaceOnUse" x1="0" y1="412.2" x2="0" y2="599.7"><stop offset="0.0000" stop-color="rgb(127,127,127)"/><stop offset="0.0843" stop-color="rgb(124,124,124)"/><stop offset="0.1483" stop-color="rgb(124,124,124)"/><stop offset="0.1643" stop-color="rgb(127,127,127)"/><stop offset="0.1856" stop-color="rgb(131,131,131)"/><stop offset="0.2016" stop-color="rgb(134,134,134)"/><stop offset="0.2443" stop-color="rgb(132,132,132)"/><stop offset="0.2549" stop-color="rgb(131,131,131)"/><stop offset="0.2976" stop-color="rgb(126,126,126)"/><stop offset="0.3403" stop-color="rgb(121,121,121)"/><stop offset="0.4416" stop-color="rgb(114,114,114)"/><stop offset="0.4576" stop-color="rgb(105,105,105)"/><stop offset="0.4789" stop-color="rgb(91,91,91)"/><stop offset="0.5109" stop-color="rgb(75,75,75)"/><stop offset="0.5216" stop-color="rgb(70,70,70)"/><stop offset="0.5536" stop-color="rgb(63,63,63)"/><stop offset="0.5803" stop-color="rgb(61,61,61)"/><stop offset="0.5909" stop-color="rgb(62,62,62)"/><stop offset="0.6176" stop-color="rgb(65,65,65)"/><stop offset="0.6496" stop-color="rgb(71,71,71)"/><stop offset="0.6603" stop-color="rgb(73,73,73)"/><stop offset="0.7083" stop-color="rgb(87,87,87)"/><stop offset="0.7136" stop-color="rgb(88,88,88)"/><stop offset="0.7616" stop-color="rgb(103,103,103)"/><stop offset="0.7989" stop-color="rgb(113,113,113)"/><stop offset="0.8149" stop-color="rgb(118,118,118)"/><stop offset="0.8309" stop-color="rgb(123,123,123)"/><stop offset="0.8523" stop-color="rgb(128,128,128)"/><stop offset="0.8683" stop-color="rgb(128,128,128)"/><stop offset="0.9056" stop-color="rgb(129,129,129)"/><stop offset="0.9749" stop-color="rgb(129,129,129)"/><stop offset="1.0000" stop-color="rgb(129,129,129)"/></linearGradient>
<linearGradient id="g48" gradientUnits="userSpaceOnUse" x1="0" y1="412.2" x2="0" y2="599.7"><stop offset="0.0000" stop-color="rgb(121,121,121)"/><stop offset="0.0843" stop-color="rgb(110,110,110)"/><stop offset="0.1643" stop-color="rgb(121,121,121)"/><stop offset="0.1856" stop-color="rgb(128,128,128)"/><stop offset="0.2443" stop-color="rgb(135,135,135)"/><stop offset="0.2976" stop-color="rgb(128,128,128)"/><stop offset="0.3403" stop-color="rgb(117,117,117)"/><stop offset="0.4576" stop-color="rgb(111,111,111)"/><stop offset="0.5109" stop-color="rgb(89,89,89)"/><stop offset="0.5536" stop-color="rgb(76,76,76)"/><stop offset="0.5909" stop-color="rgb(73,73,73)"/><stop offset="0.6496" stop-color="rgb(80,80,80)"/><stop offset="0.7136" stop-color="rgb(96,96,96)"/><stop offset="0.7989" stop-color="rgb(115,115,115)"/><stop offset="0.8309" stop-color="rgb(128,128,128)"/><stop offset="0.8683" stop-color="rgb(131,131,131)"/><stop offset="0.9056" stop-color="rgb(136,136,136)"/><stop offset="0.9749" stop-color="rgb(131,131,131)"/><stop offset="1.0000" stop-color="rgb(130,130,130)"/></linearGradient>
<linearGradient id="g49" gradientUnits="userSpaceOnUse" x1="0" y1="412.2" x2="0" y2="599.7"><stop offset="0.0000" stop-color="rgb(119,119,119)"/><stop offset="0.1643" stop-color="rgb(119,119,119)"/><stop offset="0.1856" stop-color="rgb(128,128,128)"/><stop offset="0.3403" stop-color="rgb(128,128,128)"/><stop offset="0.3563" stop-color="rgb(119,119,119)"/><stop offset="0.4949" stop-color="rgb(111,111,111)"/><stop offset="0.5856" stop-color="rgb(101,101,101)"/><stop offset="0.7083" stop-color="rgb(108,108,108)"/><stop offset="0.7989" stop-color="rgb(117,117,117)"/><stop offset="0.8203" stop-color="rgb(128,128,128)"/><stop offset="1.0000" stop-color="rgb(128,128,128)"/></linearGradient>
<linearGradient id="g50" gradientUnits="userSpaceOnUse" x1="0" y1="412.2" x2="0" y2="599.7"><stop offset="0.0000" stop-color="rgb(121,121,121)"/><stop offset="0.1643" stop-color="rgb(121,121,121)"/><stop offset="0.1856" stop-color="rgb(128,128,128)"/><stop offset="0.3403" stop-color="rgb(128,128,128)"/><stop offset="0.3563" stop-color="rgb(122,122,122)"/><stop offset="0.5749" stop-color="rgb(117,117,117)"/><stop offset="0.7989" stop-color="rgb(122,122,122)"/><stop offset="0.8203" stop-color="rgb(128,128,128)"/><stop offset="1.0000" stop-color="rgb(128,128,128)"/></linearGradient>
<clipPath id="c51"><rect x="39.2" y="607.9" width="202.8" height="187.6"/></clipPath>
<linearGradient id="g52" gradientUnits="userSpaceOnUse" x1="0" y1="607.9" x2="0" y2="795.5"><stop offset="0.0000" stop-color="rgb(125,125,125)"/><stop offset="0.1711" stop-color="rgb(125,125,125)"/><stop offset="0.2244" stop-color="rgb(128,128,128)"/><stop offset="0.3310" stop-color="rgb(133,133,133)"/><stop offset="0.4376" stop-color="rgb(135,135,135)"/><stop offset="0.4909" stop-color="rgb(130,130,130)"/><stop offset="0.5229" stop-color="rgb(128,128,128)"/><stop offset="1.0000" stop-color="rgb(128,128,128)"/></linearGradient>
<linearGradient id="g53" gradientUnits="userSpaceOnUse" x1="0" y1="607.9" x2="0" y2="795.5"><stop offset="0.0000" stop-color="rgb(124,124,124)"/><stop offset="0.1285" stop-color="rgb(124,124,124)"/><stop offset="0.1604" stop-color="rgb(129,129,129)"/><stop offset="0.2244" stop-color="rgb(138,138,138)"/><stop offset="0.3204" stop-color="rgb(152,152,152)"/><stop offset="0.3843" stop-color="rgb(162,162,162)"/><stop offset="0.4270" stop-color="rgb(166,166,166)"/><stop offset="0.4696" stop-color="rgb(157,157,157)"/><stop offset="0.4963" stop-color="rgb(140,140,140)"/><stop offset="0.5229" stop-color="rgb(129,129,129)"/><stop offset="0.5442" stop-color="rgb(122,122,122)"/><stop offset="0.5869" stop-color="rgb(117,117,117)"/><stop offset="0.6349" stop-color="rgb(125,125,125)"/><stop offset="0.6775" stop-color="rgb(128,128,128)"/><stop offset="1.0000" stop-color="rgb(129,129,129)"/></linearGradient>
<linearGradient id="g54" gradientUnits="userSpaceOnUse" x1="0" y1="607.9" x2="0" y2="795.5"><stop offset="0.0000" stop-color="rgb(124,124,124)"/><stop offset="0.1445" stop-color="rgb(124,124,124)"/><stop offset="0.1711" stop-color="rgb(131,131,131)"/><stop offset="0.2511" stop-color="rgb(143,143,143)"/><stop offset="0.3204" stop-color="rgb(159,159,159)"/><stop offset="0.3737" stop-color="rgb(176,176,176)"/><stop offset="0.4057" stop-color="rgb(186,186,186)"/><stop offset="0.4270" stop-color="rgb(189,189,189)"/><stop offset="0.4536" stop-color="rgb(182,182,182)"/><stop offset="0.4803" stop-color="rgb(163,163,163)"/><stop offset="0.5016" stop-color="rgb(144,144,144)"/><stop offset="0.5229" stop-color="rgb(130,130,130)"/><stop offset="0.5496" stop-color="rgb(117,117,117)"/><stop offset="0.5869" stop-color="rgb(110,110,110)"/><stop offset="0.6295" stop-color="rgb(117,117,117)"/><stop offset="0.6615" stop-color="rgb(130,130,130)"/><stop offset="0.8108" stop-color="rgb(135,135,135)"/><stop offset="0.9707" stop-color="rgb(134,134,134)"/><stop offset="1.0000" stop-color="rgb(133,133,133)"/></linearGradient>
<linearGradient id="g55" gradientUnits="userSpaceOnUse" x1="0" y1="607.9" x2="0" y2="795.5"><stop offset="0.0000" stop-color="rgb(122,122,122)"/><stop offset="0.1711" stop-color="rgb(122,122,122)"/><stop offset="0.2351" stop-color="rgb(129,129,129)"/><stop offset="0.3204" stop-color="rgb(139,139,139)"/><stop offset="0.3950" stop-color="rgb(152,152,152)"/><stop offset="0.4376" stop-color="rgb(156,156,156)"/><stop offset="0.4749" stop-color="rgb(148,148,148)"/><stop offset="0.5016" stop-color="rgb(136,136,136)"/><stop offset="0.5229" stop-color="rgb(129,129,129)"/><stop offset="0.5496" stop-color="rgb(121,121,121)"/><stop offset="0.5869" stop-color="rgb(115,115,115)"/><stop offset="0.6295" stop-color="rgb(122,122,122)"/><stop offset="0.6615" stop-color="rgb(133,133,133)"/><stop offset="0.8108" stop-color="rgb(136,136,136)"/><stop offset="0.9707" stop-color="rgb(134,134,134)"/><stop offset="1.0000" stop-color="rgb(133,133,133)"/></linearGradient>
<linearGradient id="g56" gradientUnits="userSpaceOnUse" x1="0" y1="607.9" x2="0" y2="795.5"><stop offset="0.0000" stop-color="rgb(122,122,122)"/><stop offset="0.1711" stop-color="rgb(122,122,122)"/><stop offset="0.2884" stop-color="rgb(128,128,128)"/><stop offset="0.3577" stop-color="rgb(136,136,136)"/><stop offset="0.4376" stop-color="rgb(145,145,145)"/><stop offset="0.4803" stop-color="rgb(139,139,139)"/><stop offset="0.5069" stop-color="rgb(131,131,131)"/><stop offset="0.5336" stop-color="rgb(128,128,128)"/><stop offset="0.6509" stop-color="rgb(131,131,131)"/><stop offset="0.8108" stop-color="rgb(135,135,135)"/><stop offset="0.9707" stop-color="rgb(133,133,133)"/><stop offset="1.0000" stop-color="rgb(131,131,131)"/></linearGradient>
<linearGradient id="g57" gradientUnits="userSpaceOnUse" x1="0" y1="607.9" x2="0" y2="795.5"><stop offset="0.0000" stop-color="rgb(124,124,124)"/><stop offset="0.1711" stop-color="rgb(124,124,124)"/><stop offset="0.3044" stop-color="rgb(128,128,128)"/><stop offset="0.3843" stop-color="rgb(135,135,135)"/><stop offset="0.4803" stop-color="rgb(135,135,135)"/><stop offset="0.5123" stop-color="rgb(128,128,128)"/><stop offset="0.6509" stop-color="rgb(130,130,130)"/><stop offset="0.9707" stop-color="rgb(130,130,130)"/><stop offset="1.0000" stop-color="rgb(129,129,129)"/></linearGradient>
<clipPath id="c58"><rect x="267.6" y="607.9" width="202.7" height="187.6"/></clipPath>
<linearGradient id="g59" gradientUnits="userSpaceOnUse" x1="0" y1="607.9" x2="0" y2="795.5"><stop offset="0.0000" stop-color="rgb(128,128,128)"/><stop offset="0.0858" stop-color="rgb(128,128,128)"/><stop offset="0.0965" stop-color="rgb(124,124,124)"/><stop offset="0.4749" stop-color="rgb(124,124,124)"/><stop offset="0.4909" stop-color="rgb(117,117,117)"/><stop offset="0.7575" stop-color="rgb(120,120,120)"/><stop offset="0.8961" stop-color="rgb(124,124,124)"/><stop offset="0.9067" stop-color="rgb(128,128,128)"/><stop offset="1.0000" stop-color="rgb(128,128,128)"/></linearGradient>
<linearGradient id="g60" gradientUnits="userSpaceOnUse" x1="0" y1="607.9" x2="0" y2="795.5"><stop offset="0.0000" stop-color="rgb(128,128,128)"/><stop offset="0.0858" stop-color="rgb(125,125,125)"/><stop offset="0.2777" stop-color="rgb(125,125,125)"/><stop offset="0.3417" stop-color="rgb(135,135,135)"/><stop offset="0.3950" stop-color="rgb(139,139,139)"/><stop offset="0.4483" stop-color="rgb(131,131,131)"/><stop offset="0.4803" stop-color="rgb(121,121,121)"/><stop offset="0.5176" stop-color="rgb(108,108,108)"/><stop offset="0.5762" stop-color="rgb(96,96,96)"/><stop offset="0.6775" stop-color="rgb(105,105,105)"/><stop offset="0.8108" stop-color="rgb(119,119,119)"/><stop offset="0.8961" stop-color="rgb(124,124,124)"/><stop offset="0.9440" stop-color="rgb(131,131,131)"/><stop offset="0.9813" stop-color="rgb(134,134,134)"/><stop offset="1.0000" stop-color="rgb(134,134,134)"/></linearGradient>
<linearGradient id="g61" gradientUnits="userSpaceOnUse" x1="0" y1="607.9" x2="0" y2="795.5"><stop offset="0.0000" stop-color="rgb(122,122,122)"/><stop offset="0.2244" stop-color="rgb(121,121,121)"/><stop offset="0.3204" stop-color="rgb(125,125,125)"/><stop offset="0.3843" stop-color="rgb(138,138,138)"/><stop offset="0.4376" stop-color="rgb(131,131,131)"/><stop offset="0.4749" stop-color="rgb(121,121,121)"/><stop offset="0.5069" stop-color="rgb(98,98,98)"/><stop offset="0.5442" stop-color="rgb(78,78,78)"/><stop offset="0.5789" stop-color="rgb(70,70,70)"/><stop offset="0.6242" stop-color="rgb(79,79,79)"/><stop offset="0.7042" stop-color="rgb(97,97,97)"/><stop offset="0.8108" stop-color="rgb(112,112,112)"/><stop offset="0.8961" stop-color="rgb(122,122,122)"/><stop offset="0.9280" stop-color="rgb(131,131,131)"/><stop offset="0.9707" stop-color="rgb(133,133,133)"/><stop offset="1.0000" stop-color="rgb(131,131,131)"/></linearGradient>
<linearGradient id="g62" gradientUnits="userSpaceOnUse" x1="0" y1="607.9" x2="0" y2="795.5"><stop offset="0.0000" stop-color="rgb(121,121,121)"/><stop offset="0.2777" stop-color="rgb(120,120,120)"/><stop offset="0.4057" stop-color="rgb(122,122,122)"/><stop offset="0.4376" stop-color="rgb(128,128,128)"/><stop offset="0.4696" stop-color="rgb(124,124,124)"/><stop offset="0.5016" stop-color="rgb(108,108,108)"/><stop offset="0.5762" stop-color="rgb(94,94,94)"/><stop offset="0.6775" stop-color="rgb(105,105,105)"/><stop offset="0.8108" stop-color="rgb(117,117,117)"/><stop offset="0.8747" stop-color="rgb(125,125,125)"/><stop offset="0.9120" stop-color="rgb(134,134,134)"/><stop offset="0.9600" stop-color="rgb(130,130,130)"/><stop offset="1.0000" stop-color="rgb(129,129,129)"/></linearGradient>
<linearGradient id="g63" gradientUnits="userSpaceOnUse" x1="0" y1="607.9" x2="0" y2="795.5"><stop offset="0.0000" stop-color="rgb(122,122,122)"/><stop offset="0.4057" stop-color="rgb(122,122,122)"/><stop offset="0.4376" stop-color="rgb(125,125,125)"/><stop offset="0.4803" stop-color="rgb(124,124,124)"/><stop offset="0.5123" stop-color="rgb(115,115,115)"/><stop offset="0.5762" stop-color="rgb(111,111,111)"/><stop offset="0.7042" stop-color="rgb(115,115,115)"/><stop offset="0.8641" stop-color="rgb(124,124,124)"/><stop offset="0.9014" stop-color="rgb(128,128,128)"/><stop offset="1.0000" stop-color="rgb(128,128,128)"/></linearGradient>
<linearGradient id="g64" gradientUnits="userSpaceOnUse" x1="0" y1="607.9" x2="0" y2="795.5"><stop offset="0.0000" stop-color="rgb(124,124,124)"/><stop offset="0.4057" stop-color="rgb(124,124,124)"/><stop offset="0.4376" stop-color="rgb(125,125,125)"/><stop offset="0.4909" stop-color="rgb(120,120,120)"/><stop offset="0.7575" stop-color="rgb(121,121,121)"/><stop offset="0.8961" stop-color="rgb(125,125,125)"/><stop offset="0.9067" stop-color="rgb(128,128,128)"/><stop offset="1.0000" stop-color="rgb(128,128,128)"/></linearGradient>
<linearGradient id="cb" x1="0" y1="0" x2="0" y2="1"><stop offset="0" stop-color="#10f010"/><stop offset="0.03" stop-color="#00ff00"/><stop offset="0.25" stop-color="#00ffff"/><stop offset="0.5" stop-color="#0000ff"/><stop offset="0.75" stop-color="#ff00ff"/><stop offset="0.97" stop-color="#ff0000"/><stop offset="1" stop-color="#ff1010"/></linearGradient>
</defs>
<rect width="520" height="837" fill="#fff"/>
<g clip-path="url(#c1)"><g filter="url(#cm)">
<rect x="37.0" y="15.4" width="210.1" height="195.5" fill="rgb(128,128,128)"/>
<rect x="36" y="15.4" width="11" height="195.5" fill="rgb(131,131,131)"/>
<rect x="36" y="15.4" width="11" height="195.5" fill="rgb(131,131,131)" mask="url(#hm)"/>
<rect x="47" y="15.4" width="3" height="195.5" fill="rgb(131,131,131)"/>
<rect x="47" y="15.4" width="3" height="195.5" fill="url(#g2)" mask="url(#hm)"/>
<rect x="50" y="15.4" width="2" height="195.5" fill="url(#g2)"/>
<rect x="50" y="15.4" width="2" height="195.5" fill="url(#g3)" mask="url(#hm)"/>
<rect x="52" y="15.4" width="4" height="195.5" fill="url(#g3)"/>
<rect x="52" y="15.4" width="4" height="195.5" fill="url(#g4)" mask="url(#hm)"/>
<rect x="56" y="15.4" width="4" height="195.5" fill="url(#g4)"/>
<rect x="56" y="15.4" width="4" height="195.5" fill="url(#g5)" mask="url(#hm)"/>
<rect x="60" y="15.4" width="2" height="195.5" fill="url(#g5)"/>
<rect x="60" y="15.4" width="2" height="195.5" fill="url(#g6)" mask="url(#hm)"/>
<rect x="62" y="15.4" width="2" height="195.5" fill="url(#g6)"/>
<rect x="62" y="15.4" width="2" height="195.5" fill="rgb(131,131,131)" mask="url(#hm)"/>
<rect x="64" y="15.4" width="2" height="195.5" fill="rgb(131,131,131)"/>
<rect x="64" y="15.4" width="2" height="195.5" fill="rgb(128,128,128)" mask="url(#hm)"/>
</g></g>
<g clip-path="url(#c7)"><g filter="url(#cm)">
<rect x="265.0" y="15.4" width="210.5" height="195.5" fill="rgb(128,128,128)"/>
<rect x="264" y="15.4" width="9" height="195.5" fill="rgb(130,130,130)"/>
<rect x="264" y="15.4" width="9" height="195.5" fill="rgb(131,131,131)" mask="url(#hm)"/>
<rect x="273" y="15.4" width="3" height="195.5" fill="rgb(131,131,131)"/>
<rect x="273" y="15.4" width="3" height="195.5" fill="url(#g8)" mask="url(#hm)"/>
<rect x="276" y="15.4" width="4" height="195.5" fill="url(#g8)"/>
<rect x="276" y="15.4" width="4" height="195.5" fill="url(#g9)" mask="url(#hm)"/>
<rect x="280" y="15.4" width="4" height="195.5" fill="url(#g9)"/>
<rect x="280" y="15.4" width="4" height="195.5" fill="url(#g10)" mask="url(#hm)"/>
<rect x="284" y="15.4" width="4" height="195.5" fill="url(#g10)"/>
<rect x="284" y="15.4" width="4" height="195.5" fill="url(#g11)" mask="url(#hm)"/>
<rect x="288" y="15.4" width="2" height="195.5" fill="url(#g11)"/>
<rect x="288" y="15.4" width="2" height="195.5" fill="url(#g12)" mask="url(#hm)"/>
<rect x="290" y="15.4" width="2" height="195.5" fill="url(#g12)"/>
<rect x="290" y="15.4" width="2" height="195.5" fill="rgb(131,131,131)" mask="url(#hm)"/>
<rect x="292" y="15.4" width="2" height="195.5" fill="rgb(131,131,131)"/>
<rect x="292" y="15.4" width="2" height="195.5" fill="rgb(128,128,128)" mask="url(#hm)"/>
</g></g>
<g clip-path="url(#c13)"><g filter="url(#cm)">
<rect x="37.0" y="212.2" width="210.0" height="195.3" fill="rgb(128,128,128)"/>
<rect x="142" y="212.2" width="1" height="195.3" fill="rgb(128,128,128)"/>
<rect x="142" y="212.2" width="1" height="195.3" fill="url(#g14)" mask="url(#hm)"/>
<rect x="143" y="212.2" width="10" height="195.3" fill="url(#g14)"/>
<rect x="143" y="212.2" width="10" height="195.3" fill="url(#g15)" mask="url(#hm)"/>
<rect x="153" y="212.2" width="10" height="195.3" fill="url(#g15)"/>
<rect x="153" y="212.2" width="10" height="195.3" fill="url(#g16)" mask="url(#hm)"/>
<rect x="163" y="212.2" width="5" height="195.3" fill="url(#g16)"/>
<rect x="163" y="212.2" width="5" height="195.3" fill="url(#g17)" mask="url(#hm)"/>
<rect x="168" y="212.2" width="5" height="195.3" fill="url(#g17)"/>
<rect x="168" y="212.2" width="5" height="195.3" fill="url(#g18)" mask="url(#hm)"/>
<rect x="173" y="212.2" width="5" height="195.3" fill="url(#g18)"/>
<rect x="173" y="212.2" width="5" height="195.3" fill="url(#g19)" mask="url(#hm)"/>
<rect x="178" y="212.2" width="4" height="195.3" fill="url(#g19)"/>
<rect x="178" y="212.2" width="4" height="195.3" fill="url(#g20)" mask="url(#hm)"/>
<rect x="182" y="212.2" width="8" height="195.3" fill="url(#g20)"/>
<rect x="182" y="212.2" width="8" height="195.3" fill="url(#g21)" mask="url(#hm)"/>
<rect x="190" y="212.2" width="6" height="195.3" fill="url(#g21)"/>
<rect x="190" y="212.2" width="6" height="195.3" fill="url(#g22)" mask="url(#hm)"/>
<rect x="196" y="212.2" width="2" height="195.3" fill="url(#g22)"/>
<rect x="196" y="212.2" width="2" height="195.3" fill="rgb(128,128,128)" mask="url(#hm)"/>
</g></g>
<g clip-path="url(#c23)"><g filter="url(#cm)">
<rect x="265.2" y="212.2" width="209.5" height="195.3" fill="rgb(128,128,128)"/>
<rect x="369" y="212.2" width="2" height="195.3" fill="rgb(128,128,128)"/>
<rect x="369" y="212.2" width="2" height="195.3" fill="url(#g24)" mask="url(#hm)"/>
<rect x="371" y="212.2" width="10" height="195.3" fill="url(#g24)"/>
<rect x="371" y="212.2" width="10" height="195.3" fill="url(#g25)" mask="url(#hm)"/>
<rect x="381" y="212.2" width="10" height="195.3" fill="url(#g25)"/>
<rect x="381" y="212.2" width="10" height="195.3" fill="url(#g26)" mask="url(#hm)"/>
<rect x="391" y="212.2" width="5" height="195.3" fill="url(#g26)"/>
<rect x="391" y="212.2" width="5" height="195.3" fill="url(#g27)" mask="url(#hm)"/>
<rect x="396" y="212.2" width="4" height="195.3" fill="url(#g27)"/>
<rect x="396" y="212.2" width="4" height="195.3" fill="url(#g28)" mask="url(#hm)"/>
<rect x="400" y="212.2" width="5" height="195.3" fill="url(#g28)"/>
<rect x="400" y="212.2" width="5" height="195.3" fill="url(#g29)" mask="url(#hm)"/>
<rect x="405" y="212.2" width="4" height="195.3" fill="url(#g29)"/>
<rect x="405" y="212.2" width="4" height="195.3" fill="url(#g30)" mask="url(#hm)"/>
<rect x="409" y="212.2" width="8" height="195.3" fill="url(#g30)"/>
<rect x="409" y="212.2" width="8" height="195.3" fill="url(#g31)" mask="url(#hm)"/>
<rect x="417" y="212.2" width="7" height="195.3" fill="url(#g31)"/>
<rect x="417" y="212.2" width="7" height="195.3" fill="url(#g32)" mask="url(#hm)"/>
<rect x="424" y="212.2" width="2" height="195.3" fill="url(#g32)"/>
<rect x="424" y="212.2" width="2" height="195.3" fill="rgb(128,128,128)" mask="url(#hm)"/>
</g></g>
<g clip-path="url(#c33)"><g filter="url(#cm)">
<rect x="36.2" y="408.2" width="210.4" height="195.5" fill="rgb(128,128,128)"/>
<rect x="177" y="408.2" width="2" height="195.5" fill="rgb(128,128,128)"/>
<rect x="177" y="408.2" width="2" height="195.5" fill="url(#g34)" mask="url(#hm)"/>
<rect x="179" y="408.2" width="8" height="195.5" fill="url(#g34)"/>
<rect x="179" y="408.2" width="8" height="195.5" fill="url(#g35)" mask="url(#hm)"/>
<rect x="187" y="408.2" width="4" height="195.5" fill="url(#g35)"/>
<rect x="187" y="408.2" width="4" height="195.5" fill="url(#g36)" mask="url(#hm)"/>
<rect x="191" y="408.2" width="4" height="195.5" fill="url(#g36)"/>
<rect x="191" y="408.2" width="4" height="195.5" fill="url(#g37)" mask="url(#hm)"/>
<rect x="195" y="408.2" width="5" height="195.5" fill="url(#g37)"/>
<rect x="195" y="408.2" width="5" height="195.5" fill="url(#g38)" mask="url(#hm)"/>
<rect x="200" y="408.2" width="4" height="195.5" fill="url(#g38)"/>
<rect x="200" y="408.2" width="4" height="195.5" fill="url(#g39)" mask="url(#hm)"/>
<rect x="204" y="408.2" width="8" height="195.5" fill="url(#g39)"/>
<rect x="204" y="408.2" width="8" height="195.5" fill="url(#g40)" mask="url(#hm)"/>
<rect x="212" y="408.2" width="7" height="195.5" fill="url(#g40)"/>
<rect x="212" y="408.2" width="7" height="195.5" fill="url(#g41)" mask="url(#hm)"/>
<rect x="219" y="408.2" width="4" height="195.5" fill="url(#g41)"/>
<rect x="219" y="408.2" width="4" height="195.5" fill="rgb(128,128,128)" mask="url(#hm)"/>
</g></g>
<g clip-path="url(#c42)"><g filter="url(#cm)">
<rect x="264.5" y="408.2" width="210.3" height="195.5" fill="rgb(128,128,128)"/>
<rect x="404" y="408.2" width="3" height="195.5" fill="rgb(128,128,128)"/>
<rect x="404" y="408.2" width="3" height="195.5" fill="url(#g43)" mask="url(#hm)"/>
<rect x="407" y="408.2" width="8" height="195.5" fill="url(#g43)"/>
<rect x="407" y="408.2" width="8" height="195.5" fill="url(#g44)" mask="url(#hm)"/>
<rect x="415" y="408.2" width="6" height="195.5" fill="url(#g44)"/>
<rect x="415" y="408.2" width="6" height="195.5" fill="url(#g45)" mask="url(#hm)"/>
<rect x="421" y="408.2" width="5" height="195.5" fill="url(#g45)"/>
<rect x="421" y="408.2" width="5" height="195.5" fill="url(#g46)" mask="url(#hm)"/>
<rect x="426" y="408.2" width="5" height="195.5" fill="url(#g46)"/>
<rect x="426" y="408.2" width="5" height="195.5" fill="url(#g47)" mask="url(#hm)"/>
<rect x="431" y="408.2" width="5" height="195.5" fill="url(#g47)"/>
<rect x="431" y="408.2" width="5" height="195.5" fill="url(#g48)" mask="url(#hm)"/>
<rect x="436" y="408.2" width="8" height="195.5" fill="url(#g48)"/>
<rect x="436" y="408.2" width="8" height="195.5" fill="url(#g49)" mask="url(#hm)"/>
<rect x="444" y="408.2" width="5" height="195.5" fill="url(#g49)"/>
<rect x="444" y="408.2" width="5" height="195.5" fill="url(#g50)" mask="url(#hm)"/>
<rect x="449" y="408.2" width="2" height="195.5" fill="url(#g50)"/>
<rect x="449" y="408.2" width="2" height="195.5" fill="rgb(128,128,128)" mask="url(#hm)"/>
</g></g>
<g clip-path="url(#c51)"><g filter="url(#cm)">
<rect x="35.2" y="603.9" width="210.8" height="195.6" fill="rgb(128,128,128)"/>
<rect x="185" y="603.9" width="3" height="195.6" fill="rgb(128,128,128)"/>
<rect x="185" y="603.9" width="3" height="195.6" fill="url(#g52)" mask="url(#hm)"/>
<rect x="188" y="603.9" width="5" height="195.6" fill="url(#g52)"/>
<rect x="188" y="603.9" width="5" height="195.6" fill="url(#g53)" mask="url(#hm)"/>
<rect x="193" y="603.9" width="6" height="195.6" fill="url(#g53)"/>
<rect x="193" y="603.9" width="6" height="195.6" fill="url(#g54)" mask="url(#hm)"/>
<rect x="199" y="603.9" width="8" height="195.6" fill="url(#g54)"/>
<rect x="199" y="603.9" width="8" height="195.6" fill="url(#g55)" mask="url(#hm)"/>
<rect x="207" y="603.9" width="8" height="195.6" fill="url(#g55)"/>
<rect x="207" y="603.9" width="8" height="195.6" fill="url(#g56)" mask="url(#hm)"/>
<rect x="215" y="603.9" width="9" height="195.6" fill="url(#g56)"/>
<rect x="215" y="603.9" width="9" height="195.6" fill="url(#g57)" mask="url(#hm)"/>
<rect x="224" y="603.9" width="2" height="195.6" fill="url(#g57)"/>
<rect x="224" y="603.9" width="2" height="195.6" fill="rgb(128,128,128)" mask="url(#hm)"/>
</g></g>
<g clip-path="url(#c58)"><g filter="url(#cm)">
<rect x="263.6" y="603.9" width="210.7" height="195.6" fill="rgb(128,128,128)"/>
<rect x="414" y="603.9" width="2" height="195.6" fill="rgb(128,128,128)"/>
<rect x="414" y="603.9" width="2" height="195.6" fill="url(#g59)" mask="url(#hm)"/>
<rect x="416" y="603.9" width="6" height="195.6" fill="url(#g59)"/>
<rect x="416" y="603.9" width="6" height="195.6" fill="url(#g60)" mask="url(#hm)"/>
<rect x="422" y="603.9" width="8" height="195.6" fill="url(#g60)"/>
<rect x="422" y="603.9" width="8" height="195.6" fill="url(#g61)" mask="url(#hm)"/>
<rect x="430" y="603.9" width="8" height="195.6" fill="url(#g61)"/>
<rect x="430" y="603.9" width="8" height="195.6" fill="url(#g62)" mask="url(#hm)"/>
<rect x="438" y="603.9" width="8" height="195.6" fill="url(#g62)"/>
<rect x="438" y="603.9" width="8" height="195.6" fill="url(#g63)" mask="url(#hm)"/>
<rect x="446" y="603.9" width="6" height="195.6" fill="url(#g63)"/>
<rect x="446" y="603.9" width="6" height="195.6" fill="url(#g64)" mask="url(#hm)"/>
<rect x="452" y="603.9" width="2" height="195.6" fill="url(#g64)"/>
<rect x="452" y="603.9" width="2" height="195.6" fill="rgb(128,128,128)" mask="url(#hm)"/>
</g></g>
<g class="ax">
<line x1="37.60" y1="20.50" x2="41.30" y2="20.50"/>
<line x1="37.00" y1="38.50" x2="41.30" y2="38.50"/>
<text class="tk" x="34.9" y="43.4" text-anchor="end">8</text>
<line x1="37.60" y1="57.50" x2="41.30" y2="57.50"/>
<line x1="37.00" y1="76.50" x2="41.30" y2="76.50"/>
<text class="tk" x="34.9" y="81.4" text-anchor="end">4</text>
<line x1="37.60" y1="95.50" x2="41.30" y2="95.50"/>
<line x1="37.00" y1="113.50" x2="41.30" y2="113.50"/>
<text class="tk" x="34.9" y="118.4" text-anchor="end">0</text>
<line x1="37.60" y1="132.50" x2="41.30" y2="132.50"/>
<line x1="37.00" y1="151.50" x2="41.30" y2="151.50"/>
<text class="tk" x="34.9" y="156.4" text-anchor="end">-4</text>
<line x1="37.60" y1="169.50" x2="41.30" y2="169.50"/>
<line x1="37.00" y1="188.50" x2="41.30" y2="188.50"/>
<text class="tk" x="34.9" y="193.4" text-anchor="end">-8</text>
<line x1="37.60" y1="207.50" x2="41.30" y2="207.50"/>
<line x1="40.50" y1="206.60" x2="40.50" y2="210.80"/>
<line x1="65.50" y1="206.60" x2="65.50" y2="210.20"/>
<line x1="90.50" y1="206.60" x2="90.50" y2="210.80"/>
<line x1="116.50" y1="206.60" x2="116.50" y2="210.20"/>
<line x1="141.50" y1="206.60" x2="141.50" y2="210.80"/>
<line x1="167.50" y1="206.60" x2="167.50" y2="210.20"/>
<line x1="192.50" y1="206.60" x2="192.50" y2="210.80"/>
<line x1="217.50" y1="206.60" x2="217.50" y2="210.20"/>
<line x1="243.50" y1="206.60" x2="243.50" y2="210.80"/>
<line x1="265.60" y1="20.50" x2="269.30" y2="20.50"/>
<line x1="265.00" y1="38.50" x2="269.30" y2="38.50"/>
<line x1="265.60" y1="57.50" x2="269.30" y2="57.50"/>
<line x1="265.00" y1="76.50" x2="269.30" y2="76.50"/>
<line x1="265.60" y1="95.50" x2="269.30" y2="95.50"/>
<line x1="265.00" y1="113.50" x2="269.30" y2="113.50"/>
<line x1="265.60" y1="132.50" x2="269.30" y2="132.50"/>
<line x1="265.00" y1="151.50" x2="269.30" y2="151.50"/>
<line x1="265.60" y1="169.50" x2="269.30" y2="169.50"/>
<line x1="265.00" y1="188.50" x2="269.30" y2="188.50"/>
<line x1="265.60" y1="207.50" x2="269.30" y2="207.50"/>
<line x1="268.50" y1="206.60" x2="268.50" y2="210.80"/>
<line x1="293.50" y1="206.60" x2="293.50" y2="210.20"/>
<line x1="319.50" y1="206.60" x2="319.50" y2="210.80"/>
<line x1="344.50" y1="206.60" x2="344.50" y2="210.20"/>
<line x1="369.50" y1="206.60" x2="369.50" y2="210.80"/>
<line x1="395.50" y1="206.60" x2="395.50" y2="210.20"/>
<line x1="420.50" y1="206.60" x2="420.50" y2="210.80"/>
<line x1="445.50" y1="206.60" x2="445.50" y2="210.20"/>
<line x1="471.50" y1="206.60" x2="471.50" y2="210.80"/>
<line x1="37.60" y1="216.50" x2="41.30" y2="216.50"/>
<line x1="37.00" y1="235.50" x2="41.30" y2="235.50"/>
<text class="tk" x="34.9" y="240.4" text-anchor="end">8</text>
<line x1="37.60" y1="254.50" x2="41.30" y2="254.50"/>
<line x1="37.00" y1="272.50" x2="41.30" y2="272.50"/>
<text class="tk" x="34.9" y="277.4" text-anchor="end">4</text>
<line x1="37.60" y1="291.50" x2="41.30" y2="291.50"/>
<line x1="37.00" y1="310.50" x2="41.30" y2="310.50"/>
<text class="tk" x="34.9" y="315.4" text-anchor="end">0</text>
<line x1="37.60" y1="328.50" x2="41.30" y2="328.50"/>
<line x1="37.00" y1="347.50" x2="41.30" y2="347.50"/>
<text class="tk" x="34.9" y="352.4" text-anchor="end">-4</text>
<line x1="37.60" y1="366.50" x2="41.30" y2="366.50"/>
<line x1="37.00" y1="384.50" x2="41.30" y2="384.50"/>
<text class="tk" x="34.9" y="389.4" text-anchor="end">-8</text>
<line x1="37.60" y1="403.50" x2="41.30" y2="403.50"/>
<line x1="40.50" y1="403.20" x2="40.50" y2="407.40"/>
<line x1="65.50" y1="403.20" x2="65.50" y2="406.80"/>
<line x1="90.50" y1="403.20" x2="90.50" y2="407.40"/>
<line x1="116.50" y1="403.20" x2="116.50" y2="406.80"/>
<line x1="141.50" y1="403.20" x2="141.50" y2="407.40"/>
<line x1="167.50" y1="403.20" x2="167.50" y2="406.80"/>
<line x1="192.50" y1="403.20" x2="192.50" y2="407.40"/>
<line x1="217.50" y1="403.20" x2="217.50" y2="406.80"/>
<line x1="243.50" y1="403.20" x2="243.50" y2="407.40"/>
<line x1="265.80" y1="216.50" x2="269.50" y2="216.50"/>
<line x1="265.20" y1="235.50" x2="269.50" y2="235.50"/>
<line x1="265.80" y1="254.50" x2="269.50" y2="254.50"/>
<line x1="265.20" y1="272.50" x2="269.50" y2="272.50"/>
<line x1="265.80" y1="291.50" x2="269.50" y2="291.50"/>
<line x1="265.20" y1="310.50" x2="269.50" y2="310.50"/>
<line x1="265.80" y1="328.50" x2="269.50" y2="328.50"/>
<line x1="265.20" y1="347.50" x2="269.50" y2="347.50"/>
<line x1="265.80" y1="366.50" x2="269.50" y2="366.50"/>
<line x1="265.20" y1="384.50" x2="269.50" y2="384.50"/>
<line x1="265.80" y1="403.50" x2="269.50" y2="403.50"/>
<line x1="268.50" y1="403.20" x2="268.50" y2="407.40"/>
<line x1="293.50" y1="403.20" x2="293.50" y2="406.80"/>
<line x1="319.50" y1="403.20" x2="319.50" y2="407.40"/>
<line x1="344.50" y1="403.20" x2="344.50" y2="406.80"/>
<line x1="369.50" y1="403.20" x2="369.50" y2="407.40"/>
<line x1="395.50" y1="403.20" x2="395.50" y2="406.80"/>
<line x1="420.50" y1="403.20" x2="420.50" y2="407.40"/>
<line x1="445.50" y1="403.20" x2="445.50" y2="406.80"/>
<line x1="471.50" y1="403.20" x2="471.50" y2="407.40"/>
<line x1="36.80" y1="412.50" x2="40.50" y2="412.50"/>
<line x1="36.20" y1="431.50" x2="40.50" y2="431.50"/>
<text class="tk" x="34.9" y="436.4" text-anchor="end">8</text>
<line x1="36.80" y1="450.50" x2="40.50" y2="450.50"/>
<line x1="36.20" y1="469.50" x2="40.50" y2="469.50"/>
<text class="tk" x="34.9" y="474.4" text-anchor="end">4</text>
<line x1="36.80" y1="487.50" x2="40.50" y2="487.50"/>
<line x1="36.20" y1="506.50" x2="40.50" y2="506.50"/>
<text class="tk" x="34.9" y="511.4" text-anchor="end">0</text>
<line x1="36.80" y1="525.50" x2="40.50" y2="525.50"/>
<line x1="36.20" y1="543.50" x2="40.50" y2="543.50"/>
<text class="tk" x="34.9" y="548.4" text-anchor="end">-4</text>
<line x1="36.80" y1="562.50" x2="40.50" y2="562.50"/>
<line x1="36.20" y1="581.50" x2="40.50" y2="581.50"/>
<text class="tk" x="34.9" y="586.4" text-anchor="end">-8</text>
<line x1="36.80" y1="600.50" x2="40.50" y2="600.50"/>
<line x1="40.50" y1="599.40" x2="40.50" y2="603.60"/>
<line x1="65.50" y1="599.40" x2="65.50" y2="603.00"/>
<line x1="90.50" y1="599.40" x2="90.50" y2="603.60"/>
<line x1="116.50" y1="599.40" x2="116.50" y2="603.00"/>
<line x1="141.50" y1="599.40" x2="141.50" y2="603.60"/>
<line x1="167.50" y1="599.40" x2="167.50" y2="603.00"/>
<line x1="192.50" y1="599.40" x2="192.50" y2="603.60"/>
<line x1="217.50" y1="599.40" x2="217.50" y2="603.00"/>
<line x1="243.50" y1="599.40" x2="243.50" y2="603.60"/>
<line x1="265.10" y1="412.50" x2="268.80" y2="412.50"/>
<line x1="264.50" y1="431.50" x2="268.80" y2="431.50"/>
<line x1="265.10" y1="450.50" x2="268.80" y2="450.50"/>
<line x1="264.50" y1="469.50" x2="268.80" y2="469.50"/>
<line x1="265.10" y1="487.50" x2="268.80" y2="487.50"/>
<line x1="264.50" y1="506.50" x2="268.80" y2="506.50"/>
<line x1="265.10" y1="525.50" x2="268.80" y2="525.50"/>
<line x1="264.50" y1="543.50" x2="268.80" y2="543.50"/>
<line x1="265.10" y1="562.50" x2="268.80" y2="562.50"/>
<line x1="264.50" y1="581.50" x2="268.80" y2="581.50"/>
<line x1="265.10" y1="600.50" x2="268.80" y2="600.50"/>
<line x1="268.50" y1="599.40" x2="268.50" y2="603.60"/>
<line x1="293.50" y1="599.40" x2="293.50" y2="603.00"/>
<line x1="319.50" y1="599.40" x2="319.50" y2="603.60"/>
<line x1="344.50" y1="599.40" x2="344.50" y2="603.00"/>
<line x1="369.50" y1="599.40" x2="369.50" y2="603.60"/>
<line x1="395.50" y1="599.40" x2="395.50" y2="603.00"/>
<line x1="420.50" y1="599.40" x2="420.50" y2="603.60"/>
<line x1="445.50" y1="599.40" x2="445.50" y2="603.00"/>
<line x1="471.50" y1="599.40" x2="471.50" y2="603.60"/>
<line x1="35.80" y1="608.50" x2="39.50" y2="608.50"/>
<line x1="35.20" y1="627.50" x2="39.50" y2="627.50"/>
<text class="tk" x="33.9" y="632.4" text-anchor="end">8</text>
<line x1="35.80" y1="646.50" x2="39.50" y2="646.50"/>
<line x1="35.20" y1="665.50" x2="39.50" y2="665.50"/>
<text class="tk" x="33.9" y="670.4" text-anchor="end">4</text>
<line x1="35.80" y1="683.50" x2="39.50" y2="683.50"/>
<line x1="35.20" y1="702.50" x2="39.50" y2="702.50"/>
<text class="tk" x="33.9" y="707.4" text-anchor="end">0</text>
<line x1="35.80" y1="721.50" x2="39.50" y2="721.50"/>
<line x1="35.20" y1="739.50" x2="39.50" y2="739.50"/>
<text class="tk" x="33.9" y="744.4" text-anchor="end">-4</text>
<line x1="35.80" y1="758.50" x2="39.50" y2="758.50"/>
<line x1="35.20" y1="777.50" x2="39.50" y2="777.50"/>
<text class="tk" x="33.9" y="782.4" text-anchor="end">-8</text>
<line x1="35.80" y1="796.50" x2="39.50" y2="796.50"/>
<line x1="40.50" y1="795.20" x2="40.50" y2="799.40"/>
<text class="tk" x="40.0" y="814.0" text-anchor="middle">200</text>
<line x1="65.50" y1="795.20" x2="65.50" y2="798.80"/>
<line x1="90.50" y1="795.20" x2="90.50" y2="799.40"/>
<text class="tk" x="90.0" y="814.0" text-anchor="middle">250</text>
<line x1="116.50" y1="795.20" x2="116.50" y2="798.80"/>
<line x1="141.50" y1="795.20" x2="141.50" y2="799.40"/>
<text class="tk" x="141.0" y="814.0" text-anchor="middle">300</text>
<line x1="167.50" y1="795.20" x2="167.50" y2="798.80"/>
<line x1="192.50" y1="795.20" x2="192.50" y2="799.40"/>
<text class="tk" x="192.0" y="814.0" text-anchor="middle">350</text>
<line x1="217.50" y1="795.20" x2="217.50" y2="798.80"/>
<line x1="243.50" y1="795.20" x2="243.50" y2="799.40"/>
<text class="tk" x="243.0" y="814.0" text-anchor="middle">400</text>
<line x1="264.20" y1="608.50" x2="267.90" y2="608.50"/>
<line x1="263.60" y1="627.50" x2="267.90" y2="627.50"/>
<line x1="264.20" y1="646.50" x2="267.90" y2="646.50"/>
<line x1="263.60" y1="665.50" x2="267.90" y2="665.50"/>
<line x1="264.20" y1="683.50" x2="267.90" y2="683.50"/>
<line x1="263.60" y1="702.50" x2="267.90" y2="702.50"/>
<line x1="264.20" y1="721.50" x2="267.90" y2="721.50"/>
<line x1="263.60" y1="739.50" x2="267.90" y2="739.50"/>
<line x1="264.20" y1="758.50" x2="267.90" y2="758.50"/>
<line x1="263.60" y1="777.50" x2="267.90" y2="777.50"/>
<line x1="264.20" y1="796.50" x2="267.90" y2="796.50"/>
<line x1="268.50" y1="795.20" x2="268.50" y2="799.40"/>
<text class="tk" x="268.0" y="814.0" text-anchor="middle">200</text>
<line x1="293.50" y1="795.20" x2="293.50" y2="798.80"/>
<line x1="319.50" y1="795.20" x2="319.50" y2="799.40"/>
<text class="tk" x="319.0" y="814.0" text-anchor="middle">250</text>
<line x1="344.50" y1="795.20" x2="344.50" y2="798.80"/>
<line x1="369.50" y1="795.20" x2="369.50" y2="799.40"/>
<text class="tk" x="369.0" y="814.0" text-anchor="middle">300</text>
<line x1="395.50" y1="795.20" x2="395.50" y2="798.80"/>
<line x1="420.50" y1="795.20" x2="420.50" y2="799.40"/>
<text class="tk" x="420.0" y="814.0" text-anchor="middle">350</text>
<line x1="445.50" y1="795.20" x2="445.50" y2="798.80"/>
<line x1="471.50" y1="795.20" x2="471.50" y2="799.40"/>
<text class="tk" x="471.0" y="814.0" text-anchor="middle">400</text>
</g>
<text class="al" transform="translate(14.5,108.8) rotate(-90)" text-anchor="middle"><tspan font-style="italic" font-size="18">μ</tspan><tspan font-size="11" dy="3" dx="-0.5">0</tspan><tspan dy="-3">H</tspan><tspan dx="1.4"> (T)</tspan></text>
<text class="al" transform="translate(14.5,305.1) rotate(-90)" text-anchor="middle"><tspan font-style="italic" font-size="18">μ</tspan><tspan font-size="11" dy="3" dx="-0.5">0</tspan><tspan dy="-3">H</tspan><tspan dx="1.4"> (T)</tspan></text>
<text class="al" transform="translate(13.7,501.4) rotate(-90)" text-anchor="middle"><tspan font-style="italic" font-size="18">μ</tspan><tspan font-size="11" dy="3" dx="-0.5">0</tspan><tspan dy="-3">H</tspan><tspan dx="1.4"> (T)</tspan></text>
<text class="al" transform="translate(13.9,697.5) rotate(-90)" text-anchor="middle"><tspan font-style="italic" font-size="18">μ</tspan><tspan font-size="11" dy="3" dx="-0.5">0</tspan><tspan dy="-3">H</tspan><tspan dx="1.4"> (T)</tspan></text>
<text class="xl" x="140.2" y="831.8" text-anchor="middle"><tspan font-style="italic">T</tspan> (K)</text>
<text class="xl" x="369.0" y="831.8" text-anchor="middle"><tspan font-style="italic">T</tspan> (K)</text>
<text class="al" x="84.6" y="12.8">-<tspan font-style="italic">H</tspan></text>
<text class="al" x="170.3" y="12.8">+<tspan font-style="italic">H</tspan></text>
<text class="al" x="314.8" y="12.8">-<tspan font-style="italic">H</tspan></text>
<text class="al" x="400.8" y="12.8">+<tspan font-style="italic">H</tspan></text>
<path d="M164.3 6.6 H118" stroke="#000" stroke-width="1.9" fill="none"/><path d="M110 6.6 L119.6 2.8 L119.6 10.4 Z" fill="#000"/>
<path d="M340.4 6.6 H387" stroke="#000" stroke-width="1.9" fill="none"/><path d="M395.4 6.6 L385.8 2.8 L385.8 10.4 Z" fill="#000"/>
<text class="pl" x="218.0" y="43.4" text-anchor="middle">(a)</text>
<text class="pl" x="444.6" y="43.2" text-anchor="middle">(b)</text>
<text class="pl" x="64.2" y="241.2" text-anchor="middle">(c)</text>
<text class="pl" x="293.0" y="241.2" text-anchor="middle">(d)</text>
<text class="pl" x="64.2" y="440.0" text-anchor="middle">(e)</text>
<text class="pl" x="293.4" y="439.8" text-anchor="middle">(f)</text>
<text class="pl" x="63.1" y="634.8" text-anchor="middle">(g)</text>
<text class="pl" x="293.0" y="635.0" text-anchor="middle">(h)</text>
<text class="nm" x="203.5" y="191.2" text-anchor="middle">3 nm</text>
<text class="nm" x="431.6" y="191.2" text-anchor="middle">3 nm</text>
<text class="nm" x="80.7" y="389.6" text-anchor="middle">5 nm</text>
<text class="nm" x="307.3" y="389.6" text-anchor="middle">5 nm</text>
<text class="nm" x="80.0" y="584.3" text-anchor="middle">10 nm</text>
<text class="nm" x="307.2" y="584.3" text-anchor="middle">10 nm</text>
<text class="nm" x="79.6" y="781.3" text-anchor="middle">15 nm</text>
<text class="nm" x="307.4" y="781.5" text-anchor="middle">15 nm</text>
<rect x="483.2" y="133.3" width="12.4" height="188.3" fill="url(#cb)"/>
<text class="tk" x="499.4" y="141.6">10</text>
<text class="tk" x="500.0" y="238.8">0</text>
<text class="tk" x="497.6" y="324.8">-10</text>
<text class="cl" transform="translate(489.8,23.6) rotate(90)"><tspan font-style="italic">ρ</tspan><tspan font-size="12" dy="3.5">THE</tspan><tspan dy="-3.5"> (nΩ cm)</tspan></text>
</svg>
</body></html>
